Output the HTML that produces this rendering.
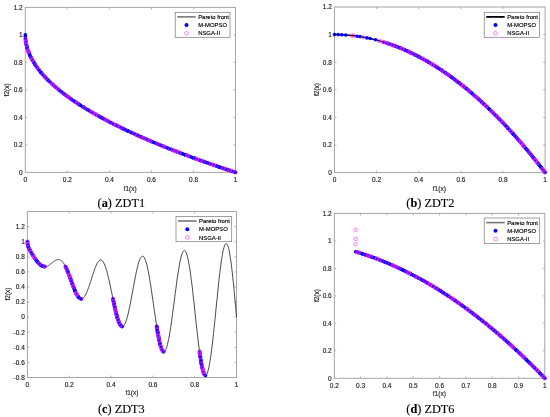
<!DOCTYPE html>
<html lang="en"><head><meta charset="utf-8"><title>Pareto fronts ZDT</title>
<style>
html,body{margin:0;padding:0;background:#fff}
svg{display:block}
.t{font-family:"Liberation Sans",Arial,sans-serif;font-size:6.5px;fill:#222;stroke:#222;stroke-width:.15}
.l{font-family:"Liberation Sans",Arial,sans-serif;font-size:5.9px;fill:#000;stroke:#000;stroke-width:.15}
.xl{font-family:"Liberation Sans",Arial,sans-serif;font-size:6.5px;fill:#2a2a2a;stroke:#2a2a2a;stroke-width:.15}
.c{font-family:"Liberation Serif","Times New Roman",serif;font-size:12.3px;fill:#000;stroke:#000;stroke-width:.12}
.ax{stroke:#a6a6a6;stroke-width:1;fill:none}
.tk{stroke:#999;stroke-width:.7;fill:none}
.b{fill:#0000ff}
.m{fill:none;stroke:#ff28ff;stroke-width:.6}
</style></head><body>
<svg width="550" height="417" viewBox="0 0 550 417">
<rect width="550" height="417" fill="#fff"/>
<g id="a">
<rect class="ax" x="25.3" y="7.4" width="210.2" height="165.0"/><path class="tk" d="M67.3 172.4v-2M67.3 7.4v2M109.4 172.4v-2M109.4 7.4v2M151.4 172.4v-2M151.4 7.4v2M193.5 172.4v-2M193.5 7.4v2M25.3 144.9h2M235.5 144.9h-2M25.3 117.4h2M235.5 117.4h-2M25.3 89.9h2M235.5 89.9h-2M25.3 62.4h2M235.5 62.4h-2M25.3 34.9h2M235.5 34.9h-2"/>
<polyline points="25.3,34.9 25.8,41.8 26.4,44.6 26.9,46.8 27.4,48.7 27.9,50.3 28.5,51.7 29.0,53.1 29.5,54.3 30.0,55.5 30.6,56.6 31.1,57.7 31.6,58.7 32.1,59.7 32.7,60.6 33.2,61.5 33.7,62.4 34.2,63.2 34.8,64.1 35.3,64.9 35.8,65.6 36.3,66.4 36.9,67.1 37.4,67.9 37.9,68.6 38.4,69.3 39.0,70.0 39.5,70.6 40.0,71.3 40.5,71.9 41.1,72.6 41.6,73.2 42.1,73.8 42.6,74.4 43.2,75.0 43.7,75.6 44.2,76.2 44.7,76.7 45.3,77.3 45.8,77.8 46.3,78.4 46.8,78.9 47.4,79.5 47.9,80.0 48.4,80.5 48.9,81.0 49.5,81.5 50.0,82.0 50.5,82.5 51.0,83.0 51.6,83.5 52.1,84.0 52.6,84.5 53.2,85.0 53.7,85.4 54.2,85.9 54.7,86.3 55.3,86.8 55.8,87.3 56.3,87.7 56.8,88.2 57.4,88.6 57.9,89.0 58.4,89.5 58.9,89.9 59.5,90.3 60.0,90.8 60.5,91.2 61.0,91.6 61.6,92.0 62.1,92.4 62.6,92.8 63.1,93.2 63.7,93.6 64.2,94.0 64.7,94.4 65.2,94.8 65.8,95.2 66.3,95.6 66.8,96.0 67.3,96.4 67.9,96.8 68.4,97.2 68.9,97.5 69.4,97.9 70.0,98.3 70.5,98.7 71.0,99.0 71.5,99.4 72.1,99.8 72.6,100.1 73.1,100.5 73.6,100.8 74.2,101.2 74.7,101.6 75.2,101.9 75.7,102.3 76.3,102.6 76.8,103.0 77.3,103.3 77.8,103.7 78.4,104.0 78.9,104.3 79.4,104.7 80.0,105.0 80.5,105.3 81.0,105.7 81.5,106.0 82.1,106.3 82.6,106.7 83.1,107.0 83.6,107.3 84.2,107.7 84.7,108.0 85.2,108.3 85.7,108.6 86.3,108.9 86.8,109.3 87.3,109.6 87.8,109.9 88.4,110.2 88.9,110.5 89.4,110.8 89.9,111.1 90.5,111.5 91.0,111.8 91.5,112.1 92.0,112.4 92.6,112.7 93.1,113.0 93.6,113.3 94.1,113.6 94.7,113.9 95.2,114.2 95.7,114.5 96.2,114.8 96.8,115.1 97.3,115.4 97.8,115.7 98.3,116.0 98.9,116.2 99.4,116.5 99.9,116.8 100.4,117.1 101.0,117.4 101.5,117.7 102.0,118.0 102.5,118.3 103.1,118.5 103.6,118.8 104.1,119.1 104.7,119.4 105.2,119.7 105.7,119.9 106.2,120.2 106.8,120.5 107.3,120.8 107.8,121.0 108.3,121.3 108.9,121.6 109.4,121.9 109.9,122.1 110.4,122.4 111.0,122.7 111.5,122.9 112.0,123.2 112.5,123.5 113.1,123.7 113.6,124.0 114.1,124.3 114.6,124.5 115.2,124.8 115.7,125.1 116.2,125.3 116.7,125.6 117.3,125.8 117.8,126.1 118.3,126.4 118.8,126.6 119.4,126.9 119.9,127.1 120.4,127.4 120.9,127.6 121.5,127.9 122.0,128.2 122.5,128.4 123.0,128.7 123.6,128.9 124.1,129.2 124.6,129.4 125.1,129.7 125.7,129.9 126.2,130.2 126.7,130.4 127.2,130.7 127.8,130.9 128.3,131.2 128.8,131.4 129.3,131.6 129.9,131.9 130.4,132.1 130.9,132.4 131.5,132.6 132.0,132.9 132.5,133.1 133.0,133.3 133.6,133.6 134.1,133.8 134.6,134.1 135.1,134.3 135.7,134.5 136.2,134.8 136.7,135.0 137.2,135.2 137.8,135.5 138.3,135.7 138.8,135.9 139.3,136.2 139.9,136.4 140.4,136.6 140.9,136.9 141.4,137.1 142.0,137.3 142.5,137.6 143.0,137.8 143.5,138.0 144.1,138.3 144.6,138.5 145.1,138.7 145.6,138.9 146.2,139.2 146.7,139.4 147.2,139.6 147.7,139.8 148.3,140.1 148.8,140.3 149.3,140.5 149.8,140.7 150.4,141.0 150.9,141.2 151.4,141.4 151.9,141.6 152.5,141.8 153.0,142.1 153.5,142.3 154.0,142.5 154.6,142.7 155.1,142.9 155.6,143.2 156.1,143.4 156.7,143.6 157.2,143.8 157.7,144.0 158.3,144.3 158.8,144.5 159.3,144.7 159.8,144.9 160.4,145.1 160.9,145.3 161.4,145.5 161.9,145.8 162.5,146.0 163.0,146.2 163.5,146.4 164.0,146.6 164.6,146.8 165.1,147.0 165.6,147.2 166.1,147.4 166.7,147.7 167.2,147.9 167.7,148.1 168.2,148.3 168.8,148.5 169.3,148.7 169.8,148.9 170.3,149.1 170.9,149.3 171.4,149.5 171.9,149.7 172.4,149.9 173.0,150.1 173.5,150.4 174.0,150.6 174.5,150.8 175.1,151.0 175.6,151.2 176.1,151.4 176.6,151.6 177.2,151.8 177.7,152.0 178.2,152.2 178.7,152.4 179.3,152.6 179.8,152.8 180.3,153.0 180.8,153.2 181.4,153.4 181.9,153.6 182.4,153.8 182.9,154.0 183.5,154.2 184.0,154.4 184.5,154.6 185.1,154.8 185.6,155.0 186.1,155.2 186.6,155.4 187.2,155.6 187.7,155.8 188.2,155.9 188.7,156.1 189.3,156.3 189.8,156.5 190.3,156.7 190.8,156.9 191.4,157.1 191.9,157.3 192.4,157.5 192.9,157.7 193.5,157.9 194.0,158.1 194.5,158.3 195.0,158.5 195.6,158.7 196.1,158.8 196.6,159.0 197.1,159.2 197.7,159.4 198.2,159.6 198.7,159.8 199.2,160.0 199.8,160.2 200.3,160.4 200.8,160.5 201.3,160.7 201.9,160.9 202.4,161.1 202.9,161.3 203.4,161.5 204.0,161.7 204.5,161.9 205.0,162.0 205.5,162.2 206.1,162.4 206.6,162.6 207.1,162.8 207.6,163.0 208.2,163.2 208.7,163.3 209.2,163.5 209.8,163.7 210.3,163.9 210.8,164.1 211.3,164.3 211.9,164.4 212.4,164.6 212.9,164.8 213.4,165.0 214.0,165.2 214.5,165.3 215.0,165.5 215.5,165.7 216.1,165.9 216.6,166.1 217.1,166.2 217.6,166.4 218.2,166.6 218.7,166.8 219.2,167.0 219.7,167.1 220.3,167.3 220.8,167.5 221.3,167.7 221.8,167.9 222.4,168.0 222.9,168.2 223.4,168.4 223.9,168.6 224.5,168.7 225.0,168.9 225.5,169.1 226.0,169.3 226.6,169.4 227.1,169.6 227.6,169.8 228.1,170.0 228.7,170.1 229.2,170.3 229.7,170.5 230.2,170.7 230.8,170.8 231.3,171.0 231.8,171.2 232.3,171.4 232.9,171.5 233.4,171.7 233.9,171.9 234.4,172.1 235.0,172.2 235.5,172.4" fill="none" stroke="#777" stroke-width="1.2" stroke-linejoin="round"/>
<g class="b"><circle cx="25.3" cy="34.9" r="1.8"/><circle cx="25.3" cy="36.7" r="1.8"/><circle cx="25.5" cy="39.1" r="1.8"/><circle cx="25.5" cy="39.1" r="1.8"/><circle cx="25.6" cy="40.5" r="1.8"/><circle cx="25.7" cy="41.0" r="1.8"/><circle cx="25.8" cy="41.3" r="1.8"/><circle cx="25.9" cy="42.3" r="1.8"/><circle cx="25.9" cy="42.4" r="1.8"/><circle cx="26.1" cy="43.6" r="1.8"/><circle cx="26.2" cy="44.1" r="1.8"/><circle cx="26.4" cy="45.0" r="1.8"/><circle cx="26.8" cy="46.4" r="1.8"/><circle cx="27.2" cy="48.0" r="1.8"/><circle cx="27.2" cy="47.9" r="1.8"/><circle cx="27.5" cy="48.9" r="1.8"/><circle cx="28.0" cy="50.4" r="1.8"/><circle cx="28.5" cy="51.8" r="1.8"/><circle cx="28.6" cy="52.2" r="1.8"/><circle cx="28.9" cy="52.8" r="1.8"/><circle cx="29.6" cy="54.6" r="1.8"/><circle cx="29.4" cy="54.1" r="1.8"/><circle cx="30.3" cy="56.2" r="1.8"/><circle cx="30.4" cy="56.3" r="1.8"/><circle cx="30.7" cy="56.9" r="1.8"/><circle cx="31.1" cy="57.8" r="1.8"/><circle cx="31.7" cy="58.9" r="1.8"/><circle cx="32.6" cy="60.4" r="1.8"/><circle cx="32.5" cy="60.4" r="1.8"/><circle cx="33.4" cy="61.8" r="1.8"/><circle cx="33.9" cy="62.7" r="1.8"/><circle cx="34.2" cy="63.2" r="1.8"/><circle cx="34.9" cy="64.2" r="1.8"/><circle cx="35.0" cy="64.4" r="1.8"/><circle cx="35.5" cy="65.2" r="1.8"/><circle cx="36.2" cy="66.2" r="1.8"/><circle cx="37.2" cy="67.6" r="1.8"/><circle cx="37.5" cy="68.1" r="1.8"/><circle cx="38.0" cy="68.7" r="1.8"/><circle cx="38.9" cy="69.8" r="1.8"/><circle cx="39.3" cy="70.4" r="1.8"/><circle cx="39.8" cy="71.0" r="1.8"/><circle cx="40.9" cy="72.4" r="1.8"/><circle cx="41.4" cy="73.0" r="1.8"/><circle cx="41.6" cy="73.2" r="1.8"/><circle cx="42.6" cy="74.3" r="1.8"/><circle cx="43.2" cy="75.0" r="1.8"/><circle cx="44.2" cy="76.1" r="1.8"/><circle cx="44.7" cy="76.7" r="1.8"/><circle cx="44.9" cy="76.9" r="1.8"/><circle cx="46.3" cy="78.4" r="1.8"/><circle cx="46.1" cy="78.1" r="1.8"/><circle cx="47.1" cy="79.2" r="1.8"/><circle cx="48.1" cy="80.2" r="1.8"/><circle cx="48.2" cy="80.2" r="1.8"/><circle cx="49.2" cy="81.3" r="1.8"/><circle cx="49.4" cy="81.5" r="1.8"/><circle cx="50.9" cy="82.8" r="1.8"/><circle cx="51.7" cy="83.6" r="1.8"/><circle cx="52.2" cy="84.1" r="1.8"/><circle cx="53.2" cy="85.0" r="1.8"/><circle cx="53.3" cy="85.1" r="1.8"/><circle cx="54.5" cy="86.1" r="1.8"/><circle cx="55.1" cy="86.7" r="1.8"/><circle cx="55.8" cy="87.3" r="1.8"/><circle cx="56.4" cy="87.8" r="1.8"/><circle cx="57.6" cy="88.8" r="1.8"/><circle cx="58.5" cy="89.6" r="1.8"/><circle cx="58.7" cy="89.7" r="1.8"/><circle cx="59.7" cy="90.5" r="1.8"/><circle cx="59.7" cy="90.5" r="1.8"/><circle cx="61.3" cy="91.8" r="1.8"/><circle cx="62.0" cy="92.3" r="1.8"/><circle cx="63.1" cy="93.2" r="1.8"/><circle cx="63.7" cy="93.7" r="1.8"/><circle cx="63.8" cy="93.8" r="1.8"/><circle cx="64.7" cy="94.4" r="1.8"/><circle cx="65.9" cy="95.3" r="1.8"/><circle cx="65.8" cy="95.3" r="1.8"/><circle cx="67.2" cy="96.3" r="1.8"/><circle cx="67.6" cy="96.6" r="1.8"/><circle cx="68.3" cy="97.1" r="1.8"/><circle cx="69.0" cy="97.6" r="1.8"/><circle cx="70.7" cy="98.8" r="1.8"/><circle cx="70.7" cy="98.8" r="1.8"/><circle cx="71.7" cy="99.5" r="1.8"/><circle cx="72.6" cy="100.2" r="1.8"/><circle cx="74.1" cy="101.1" r="1.8"/><circle cx="73.9" cy="101.0" r="1.8"/><circle cx="75.1" cy="101.9" r="1.8"/><circle cx="76.1" cy="102.5" r="1.8"/><circle cx="77.3" cy="103.3" r="1.8"/><circle cx="78.1" cy="103.8" r="1.8"/><circle cx="78.9" cy="104.4" r="1.8"/><circle cx="79.0" cy="104.4" r="1.8"/><circle cx="80.0" cy="105.0" r="1.8"/><circle cx="80.7" cy="105.5" r="1.8"/><circle cx="82.3" cy="106.5" r="1.8"/><circle cx="83.2" cy="107.1" r="1.8"/><circle cx="82.9" cy="106.9" r="1.8"/><circle cx="83.8" cy="107.4" r="1.8"/><circle cx="84.7" cy="108.0" r="1.8"/><circle cx="85.5" cy="108.5" r="1.8"/><circle cx="86.7" cy="109.2" r="1.8"/><circle cx="87.7" cy="109.8" r="1.8"/><circle cx="88.1" cy="110.0" r="1.8"/><circle cx="88.6" cy="110.3" r="1.8"/><circle cx="90.0" cy="111.2" r="1.8"/><circle cx="90.7" cy="111.6" r="1.8"/><circle cx="91.8" cy="112.3" r="1.8"/><circle cx="93.2" cy="113.1" r="1.8"/><circle cx="93.7" cy="113.3" r="1.8"/><circle cx="94.3" cy="113.7" r="1.8"/><circle cx="95.3" cy="114.3" r="1.8"/><circle cx="96.2" cy="114.8" r="1.8"/><circle cx="96.2" cy="114.8" r="1.8"/><circle cx="98.2" cy="115.9" r="1.8"/><circle cx="98.9" cy="116.3" r="1.8"/><circle cx="99.9" cy="116.8" r="1.8"/><circle cx="100.7" cy="117.2" r="1.8"/><circle cx="101.0" cy="117.4" r="1.8"/><circle cx="101.8" cy="117.9" r="1.8"/><circle cx="102.3" cy="118.1" r="1.8"/><circle cx="103.9" cy="119.0" r="1.8"/><circle cx="103.9" cy="119.0" r="1.8"/><circle cx="104.8" cy="119.5" r="1.8"/><circle cx="105.9" cy="120.0" r="1.8"/><circle cx="106.7" cy="120.4" r="1.8"/><circle cx="107.8" cy="121.0" r="1.8"/><circle cx="108.2" cy="121.3" r="1.8"/><circle cx="109.0" cy="121.7" r="1.8"/><circle cx="110.1" cy="122.2" r="1.8"/><circle cx="110.9" cy="122.7" r="1.8"/><circle cx="112.1" cy="123.3" r="1.8"/><circle cx="112.5" cy="123.5" r="1.8"/><circle cx="114.6" cy="124.5" r="1.8"/><circle cx="115.1" cy="124.8" r="1.8"/><circle cx="115.3" cy="124.9" r="1.8"/><circle cx="116.4" cy="125.4" r="1.8"/><circle cx="117.4" cy="125.9" r="1.8"/><circle cx="118.3" cy="126.3" r="1.8"/><circle cx="118.8" cy="126.6" r="1.8"/><circle cx="120.7" cy="127.5" r="1.8"/><circle cx="121.8" cy="128.1" r="1.8"/><circle cx="121.9" cy="128.1" r="1.8"/><circle cx="122.8" cy="128.6" r="1.8"/><circle cx="123.1" cy="128.7" r="1.8"/><circle cx="124.0" cy="129.1" r="1.8"/><circle cx="125.3" cy="129.7" r="1.8"/><circle cx="126.0" cy="130.1" r="1.8"/><circle cx="127.7" cy="130.9" r="1.8"/><circle cx="127.6" cy="130.8" r="1.8"/><circle cx="128.3" cy="131.2" r="1.8"/><circle cx="130.5" cy="132.2" r="1.8"/><circle cx="130.8" cy="132.3" r="1.8"/><circle cx="131.2" cy="132.5" r="1.8"/><circle cx="132.6" cy="133.1" r="1.8"/><circle cx="132.8" cy="133.2" r="1.8"/><circle cx="134.4" cy="133.9" r="1.8"/><circle cx="135.9" cy="134.6" r="1.8"/><circle cx="136.6" cy="135.0" r="1.8"/><circle cx="137.3" cy="135.3" r="1.8"/><circle cx="137.5" cy="135.4" r="1.8"/><circle cx="138.6" cy="135.8" r="1.8"/><circle cx="139.2" cy="136.1" r="1.8"/><circle cx="140.9" cy="136.9" r="1.8"/><circle cx="141.5" cy="137.1" r="1.8"/><circle cx="142.7" cy="137.7" r="1.8"/><circle cx="143.0" cy="137.8" r="1.8"/><circle cx="143.7" cy="138.1" r="1.8"/><circle cx="145.5" cy="138.9" r="1.8"/><circle cx="146.6" cy="139.4" r="1.8"/><circle cx="147.3" cy="139.7" r="1.8"/><circle cx="148.2" cy="140.0" r="1.8"/><circle cx="149.1" cy="140.4" r="1.8"/><circle cx="149.9" cy="140.7" r="1.8"/><circle cx="150.0" cy="140.8" r="1.8"/><circle cx="151.3" cy="141.4" r="1.8"/><circle cx="152.0" cy="141.7" r="1.8"/><circle cx="152.4" cy="141.8" r="1.8"/><circle cx="153.3" cy="142.2" r="1.8"/><circle cx="154.6" cy="142.7" r="1.8"/><circle cx="155.5" cy="143.1" r="1.8"/><circle cx="157.0" cy="143.7" r="1.8"/><circle cx="158.3" cy="144.3" r="1.8"/><circle cx="158.4" cy="144.3" r="1.8"/><circle cx="160.0" cy="145.0" r="1.8"/><circle cx="161.0" cy="145.4" r="1.8"/><circle cx="161.9" cy="145.7" r="1.8"/><circle cx="161.9" cy="145.8" r="1.8"/><circle cx="162.6" cy="146.0" r="1.8"/><circle cx="163.5" cy="146.4" r="1.8"/><circle cx="164.4" cy="146.8" r="1.8"/><circle cx="165.3" cy="147.1" r="1.8"/><circle cx="166.8" cy="147.7" r="1.8"/><circle cx="168.1" cy="148.2" r="1.8"/><circle cx="169.0" cy="148.6" r="1.8"/><circle cx="169.3" cy="148.7" r="1.8"/><circle cx="170.5" cy="149.2" r="1.8"/><circle cx="171.6" cy="149.6" r="1.8"/><circle cx="171.5" cy="149.6" r="1.8"/><circle cx="173.2" cy="150.3" r="1.8"/><circle cx="174.5" cy="150.7" r="1.8"/><circle cx="175.2" cy="151.0" r="1.8"/><circle cx="176.1" cy="151.4" r="1.8"/><circle cx="176.6" cy="151.6" r="1.8"/><circle cx="177.1" cy="151.7" r="1.8"/><circle cx="178.9" cy="152.4" r="1.8"/><circle cx="179.1" cy="152.5" r="1.8"/><circle cx="180.7" cy="153.1" r="1.8"/><circle cx="181.9" cy="153.6" r="1.8"/><circle cx="182.0" cy="153.6" r="1.8"/><circle cx="182.9" cy="154.0" r="1.8"/><circle cx="184.6" cy="154.6" r="1.8"/><circle cx="185.2" cy="154.8" r="1.8"/><circle cx="185.3" cy="154.9" r="1.8"/><circle cx="186.1" cy="155.2" r="1.8"/><circle cx="187.1" cy="155.5" r="1.8"/><circle cx="189.1" cy="156.3" r="1.8"/><circle cx="189.9" cy="156.6" r="1.8"/><circle cx="189.8" cy="156.5" r="1.8"/><circle cx="191.7" cy="157.2" r="1.8"/><circle cx="192.9" cy="157.7" r="1.8"/><circle cx="193.3" cy="157.8" r="1.8"/><circle cx="193.8" cy="158.0" r="1.8"/><circle cx="195.0" cy="158.4" r="1.8"/><circle cx="195.3" cy="158.6" r="1.8"/><circle cx="196.0" cy="158.8" r="1.8"/><circle cx="198.4" cy="159.7" r="1.8"/><circle cx="198.8" cy="159.8" r="1.8"/><circle cx="199.5" cy="160.1" r="1.8"/><circle cx="201.1" cy="160.6" r="1.8"/><circle cx="201.2" cy="160.7" r="1.8"/><circle cx="202.8" cy="161.3" r="1.8"/><circle cx="203.7" cy="161.6" r="1.8"/><circle cx="203.7" cy="161.6" r="1.8"/><circle cx="204.7" cy="161.9" r="1.8"/><circle cx="205.6" cy="162.3" r="1.8"/><circle cx="206.5" cy="162.6" r="1.8"/><circle cx="207.9" cy="163.1" r="1.8"/><circle cx="208.3" cy="163.2" r="1.8"/><circle cx="209.5" cy="163.6" r="1.8"/><circle cx="210.0" cy="163.8" r="1.8"/><circle cx="212.1" cy="164.5" r="1.8"/><circle cx="212.2" cy="164.5" r="1.8"/><circle cx="213.2" cy="164.9" r="1.8"/><circle cx="214.4" cy="165.3" r="1.8"/><circle cx="215.7" cy="165.8" r="1.8"/><circle cx="216.0" cy="165.9" r="1.8"/><circle cx="217.6" cy="166.4" r="1.8"/><circle cx="217.9" cy="166.5" r="1.8"/><circle cx="218.9" cy="166.9" r="1.8"/><circle cx="219.8" cy="167.2" r="1.8"/><circle cx="220.0" cy="167.2" r="1.8"/><circle cx="221.5" cy="167.8" r="1.8"/><circle cx="222.1" cy="167.9" r="1.8"/><circle cx="222.7" cy="168.2" r="1.8"/><circle cx="224.8" cy="168.9" r="1.8"/><circle cx="224.8" cy="168.9" r="1.8"/><circle cx="226.2" cy="169.3" r="1.8"/><circle cx="227.5" cy="169.8" r="1.8"/><circle cx="228.2" cy="170.0" r="1.8"/><circle cx="228.8" cy="170.2" r="1.8"/><circle cx="230.0" cy="170.6" r="1.8"/><circle cx="230.9" cy="170.9" r="1.8"/><circle cx="232.2" cy="171.3" r="1.8"/><circle cx="232.1" cy="171.3" r="1.8"/><circle cx="233.7" cy="171.8" r="1.8"/><circle cx="234.2" cy="172.0" r="1.8"/><circle cx="235.5" cy="172.4" r="1.8"/></g>
<g class="m"><circle cx="25.5" cy="39.2" r="1.75"/><circle cx="25.9" cy="41.1" r="1.75"/><circle cx="25.9" cy="41.9" r="1.75"/><circle cx="26.3" cy="44.6" r="1.75"/><circle cx="26.6" cy="45.4" r="1.75"/><circle cx="28.3" cy="51.0" r="1.75"/><circle cx="28.3" cy="51.1" r="1.75"/><circle cx="27.8" cy="50.1" r="1.75"/><circle cx="28.5" cy="52.0" r="1.75"/><circle cx="31.9" cy="59.2" r="1.75"/><circle cx="31.1" cy="57.6" r="1.75"/><circle cx="32.3" cy="60.0" r="1.75"/><circle cx="34.0" cy="62.6" r="1.75"/><circle cx="36.7" cy="66.9" r="1.75"/><circle cx="36.5" cy="66.7" r="1.75"/><circle cx="38.9" cy="70.0" r="1.75"/><circle cx="42.6" cy="74.6" r="1.75"/><circle cx="42.8" cy="74.7" r="1.75"/><circle cx="45.8" cy="77.7" r="1.75"/><circle cx="49.9" cy="82.0" r="1.75"/><circle cx="46.4" cy="78.4" r="1.75"/><circle cx="52.4" cy="84.2" r="1.75"/><circle cx="52.3" cy="84.2" r="1.75"/><circle cx="53.0" cy="85.0" r="1.75"/><circle cx="57.2" cy="88.3" r="1.75"/><circle cx="55.9" cy="87.3" r="1.75"/><circle cx="58.1" cy="89.1" r="1.75"/><circle cx="64.7" cy="94.7" r="1.75"/><circle cx="62.1" cy="92.3" r="1.75"/><circle cx="66.0" cy="95.5" r="1.75"/><circle cx="67.5" cy="96.6" r="1.75"/><circle cx="69.4" cy="97.9" r="1.75"/><circle cx="70.3" cy="98.5" r="1.75"/><circle cx="74.4" cy="101.3" r="1.75"/><circle cx="77.9" cy="103.7" r="1.75"/><circle cx="76.7" cy="102.8" r="1.75"/><circle cx="84.1" cy="107.5" r="1.75"/><circle cx="84.6" cy="107.7" r="1.75"/><circle cx="89.2" cy="110.7" r="1.75"/><circle cx="91.6" cy="112.2" r="1.75"/><circle cx="93.0" cy="112.8" r="1.75"/><circle cx="96.3" cy="114.8" r="1.75"/><circle cx="95.3" cy="114.2" r="1.75"/><circle cx="95.5" cy="114.5" r="1.75"/><circle cx="98.8" cy="116.1" r="1.75"/><circle cx="105.7" cy="119.9" r="1.75"/><circle cx="103.7" cy="118.8" r="1.75"/><circle cx="107.3" cy="120.8" r="1.75"/><circle cx="108.5" cy="121.5" r="1.75"/><circle cx="112.7" cy="123.8" r="1.75"/><circle cx="113.3" cy="123.8" r="1.75"/><circle cx="116.3" cy="125.4" r="1.75"/><circle cx="117.3" cy="125.7" r="1.75"/><circle cx="120.0" cy="127.2" r="1.75"/><circle cx="120.7" cy="127.5" r="1.75"/><circle cx="124.7" cy="129.5" r="1.75"/><circle cx="131.1" cy="132.5" r="1.75"/><circle cx="134.5" cy="133.9" r="1.75"/><circle cx="137.6" cy="135.5" r="1.75"/><circle cx="137.4" cy="135.5" r="1.75"/><circle cx="141.9" cy="137.4" r="1.75"/><circle cx="143.5" cy="138.1" r="1.75"/><circle cx="143.8" cy="138.2" r="1.75"/><circle cx="148.7" cy="140.3" r="1.75"/><circle cx="150.0" cy="140.7" r="1.75"/><circle cx="147.2" cy="139.6" r="1.75"/><circle cx="150.4" cy="141.0" r="1.75"/><circle cx="156.9" cy="143.7" r="1.75"/><circle cx="158.1" cy="144.3" r="1.75"/><circle cx="162.7" cy="146.1" r="1.75"/><circle cx="164.3" cy="146.9" r="1.75"/><circle cx="163.6" cy="146.4" r="1.75"/><circle cx="169.9" cy="149.0" r="1.75"/><circle cx="174.4" cy="150.7" r="1.75"/><circle cx="173.0" cy="150.2" r="1.75"/><circle cx="176.5" cy="151.4" r="1.75"/><circle cx="175.2" cy="151.1" r="1.75"/><circle cx="179.0" cy="152.3" r="1.75"/><circle cx="179.4" cy="152.7" r="1.75"/><circle cx="187.0" cy="155.4" r="1.75"/><circle cx="188.1" cy="155.9" r="1.75"/><circle cx="187.5" cy="155.6" r="1.75"/><circle cx="196.9" cy="158.9" r="1.75"/><circle cx="195.2" cy="158.6" r="1.75"/><circle cx="197.4" cy="159.3" r="1.75"/><circle cx="203.9" cy="161.7" r="1.75"/><circle cx="200.0" cy="160.4" r="1.75"/><circle cx="202.5" cy="161.1" r="1.75"/><circle cx="211.0" cy="164.1" r="1.75"/><circle cx="213.6" cy="164.9" r="1.75"/><circle cx="208.9" cy="163.4" r="1.75"/><circle cx="213.7" cy="165.1" r="1.75"/><circle cx="216.5" cy="165.9" r="1.75"/><circle cx="222.5" cy="167.9" r="1.75"/><circle cx="226.4" cy="169.5" r="1.75"/><circle cx="223.7" cy="168.5" r="1.75"/><circle cx="232.0" cy="171.2" r="1.75"/><circle cx="229.8" cy="170.4" r="1.75"/><circle cx="229.9" cy="170.4" r="1.75"/><circle cx="235.4" cy="172.3" r="1.75"/></g>
<text class="t" x="25.3" y="182.0" text-anchor="middle">0</text>
<text class="t" x="67.3" y="182.0" text-anchor="middle">0.2</text>
<text class="t" x="109.4" y="182.0" text-anchor="middle">0.4</text>
<text class="t" x="151.4" y="182.0" text-anchor="middle">0.6</text>
<text class="t" x="193.5" y="182.0" text-anchor="middle">0.8</text>
<text class="t" x="235.5" y="182.0" text-anchor="middle">1</text>
<text class="t" x="22.7" y="174.7" text-anchor="end">0</text>
<text class="t" x="22.7" y="147.2" text-anchor="end">0.2</text>
<text class="t" x="22.7" y="119.7" text-anchor="end">0.4</text>
<text class="t" x="22.7" y="92.2" text-anchor="end">0.6</text>
<text class="t" x="22.7" y="64.7" text-anchor="end">0.8</text>
<text class="t" x="22.7" y="37.2" text-anchor="end">1</text>
<text class="t" x="22.7" y="9.7" text-anchor="end">1.2</text>
<text class="xl" x="130.2" y="191.2" text-anchor="middle">f1(x)</text>
<text class="xl" transform="translate(9.2 89.9) rotate(-90)" text-anchor="middle">f2(x)</text>
<rect x="175.2" y="12.3" width="54.8" height="25.0" fill="#fff" stroke="#777" stroke-width=".7"/>
<line x1="177.2" y1="16.9" x2="195.7" y2="16.9" stroke="#777" stroke-width="1.6"/>
<circle class="b" cx="186.5" cy="25.1" r="2"/>
<circle class="m" cx="186.5" cy="33.3" r="1.85"/>
<text class="l" x="198.2" y="19.0">Pareto front</text>
<text class="l" x="198.2" y="27.2">M-MOPSO</text>
<text class="l" x="198.2" y="35.4">NSGA-II</text>
<text class="c" x="97.6" y="207.1">(<tspan font-weight="bold">a</tspan>) ZDT1</text>
</g>
<g id="b">
<rect class="ax" x="334.5" y="7.0" width="210.6" height="165.6"/><path class="tk" d="M376.6 172.6v-2M376.6 7.0v2M418.7 172.6v-2M418.7 7.0v2M460.9 172.6v-2M460.9 7.0v2M503.0 172.6v-2M503.0 7.0v2M334.5 145.0h2M545.1 145.0h-2M334.5 117.4h2M545.1 117.4h-2M334.5 89.8h2M545.1 89.8h-2M334.5 62.2h2M545.1 62.2h-2M334.5 34.6h2M545.1 34.6h-2"/>
<polyline points="334.5,34.6 335.0,34.6 335.6,34.6 336.1,34.6 336.6,34.6 337.1,34.6 337.7,34.6 338.2,34.6 338.7,34.7 339.2,34.7 339.8,34.7 340.3,34.7 340.8,34.7 341.3,34.7 341.9,34.8 342.4,34.8 342.9,34.8 343.5,34.8 344.0,34.9 344.5,34.9 345.0,34.9 345.6,35.0 346.1,35.0 346.6,35.1 347.1,35.1 347.7,35.1 348.2,35.2 348.7,35.2 349.2,35.3 349.8,35.3 350.3,35.4 350.8,35.4 351.3,35.5 351.9,35.5 352.4,35.6 352.9,35.7 353.5,35.7 354.0,35.8 354.5,35.8 355.0,35.9 355.6,36.0 356.1,36.0 356.6,36.1 357.1,36.2 357.7,36.3 358.2,36.3 358.7,36.4 359.2,36.5 359.8,36.6 360.3,36.7 360.8,36.8 361.4,36.8 361.9,36.9 362.4,37.0 362.9,37.1 363.5,37.2 364.0,37.3 364.5,37.4 365.0,37.5 365.6,37.6 366.1,37.7 366.6,37.8 367.1,37.9 367.7,38.0 368.2,38.1 368.7,38.2 369.2,38.4 369.8,38.5 370.3,38.6 370.8,38.7 371.4,38.8 371.9,38.9 372.4,39.1 372.9,39.2 373.5,39.3 374.0,39.5 374.5,39.6 375.0,39.7 375.6,39.8 376.1,40.0 376.6,40.1 377.1,40.3 377.7,40.4 378.2,40.5 378.7,40.7 379.3,40.8 379.8,41.0 380.3,41.1 380.8,41.3 381.4,41.4 381.9,41.6 382.4,41.7 382.9,41.9 383.5,42.1 384.0,42.2 384.5,42.4 385.0,42.5 385.6,42.7 386.1,42.9 386.6,43.1 387.1,43.2 387.7,43.4 388.2,43.6 388.7,43.8 389.3,43.9 389.8,44.1 390.3,44.3 390.8,44.5 391.4,44.7 391.9,44.8 392.4,45.0 392.9,45.2 393.5,45.4 394.0,45.6 394.5,45.8 395.0,46.0 395.6,46.2 396.1,46.4 396.6,46.6 397.2,46.8 397.7,47.0 398.2,47.2 398.7,47.4 399.3,47.6 399.8,47.9 400.3,48.1 400.8,48.3 401.4,48.5 401.9,48.7 402.4,49.0 402.9,49.2 403.5,49.4 404.0,49.6 404.5,49.9 405.1,50.1 405.6,50.3 406.1,50.6 406.6,50.8 407.2,51.0 407.7,51.3 408.2,51.5 408.7,51.7 409.3,52.0 409.8,52.2 410.3,52.5 410.8,52.7 411.4,53.0 411.9,53.2 412.4,53.5 412.9,53.7 413.5,54.0 414.0,54.3 414.5,54.5 415.1,54.8 415.6,55.1 416.1,55.3 416.6,55.6 417.2,55.9 417.7,56.1 418.2,56.4 418.7,56.7 419.3,57.0 419.8,57.2 420.3,57.5 420.8,57.8 421.4,58.1 421.9,58.4 422.4,58.7 423.0,58.9 423.5,59.2 424.0,59.5 424.5,59.8 425.1,60.1 425.6,60.4 426.1,60.7 426.6,61.0 427.2,61.3 427.7,61.6 428.2,61.9 428.7,62.2 429.3,62.5 429.8,62.9 430.3,63.2 430.8,63.5 431.4,63.8 431.9,64.1 432.4,64.4 433.0,64.8 433.5,65.1 434.0,65.4 434.5,65.7 435.1,66.1 435.6,66.4 436.1,66.7 436.6,67.1 437.2,67.4 437.7,67.7 438.2,68.1 438.7,68.4 439.3,68.8 439.8,69.1 440.3,69.4 440.9,69.8 441.4,70.1 441.9,70.5 442.4,70.8 443.0,71.2 443.5,71.6 444.0,71.9 444.5,72.3 445.1,72.6 445.6,73.0 446.1,73.4 446.6,73.7 447.2,74.1 447.7,74.5 448.2,74.8 448.8,75.2 449.3,75.6 449.8,76.0 450.3,76.3 450.9,76.7 451.4,77.1 451.9,77.5 452.4,77.9 453.0,78.3 453.5,78.7 454.0,79.0 454.5,79.4 455.1,79.8 455.6,80.2 456.1,80.6 456.6,81.0 457.2,81.4 457.7,81.8 458.2,82.2 458.8,82.6 459.3,83.0 459.8,83.5 460.3,83.9 460.9,84.3 461.4,84.7 461.9,85.1 462.4,85.5 463.0,85.9 463.5,86.4 464.0,86.8 464.5,87.2 465.1,87.6 465.6,88.1 466.1,88.5 466.7,88.9 467.2,89.4 467.7,89.8 468.2,90.2 468.8,90.7 469.3,91.1 469.8,91.6 470.3,92.0 470.9,92.5 471.4,92.9 471.9,93.4 472.4,93.8 473.0,94.3 473.5,94.7 474.0,95.2 474.5,95.6 475.1,96.1 475.6,96.5 476.1,97.0 476.7,97.5 477.2,97.9 477.7,98.4 478.2,98.9 478.8,99.4 479.3,99.8 479.8,100.3 480.3,100.8 480.9,101.3 481.4,101.7 481.9,102.2 482.4,102.7 483.0,103.2 483.5,103.7 484.0,104.2 484.6,104.7 485.1,105.1 485.6,105.6 486.1,106.1 486.7,106.6 487.2,107.1 487.7,107.6 488.2,108.1 488.8,108.6 489.3,109.2 489.8,109.7 490.3,110.2 490.9,110.7 491.4,111.2 491.9,111.7 492.5,112.2 493.0,112.7 493.5,113.3 494.0,113.8 494.6,114.3 495.1,114.8 495.6,115.4 496.1,115.9 496.7,116.4 497.2,117.0 497.7,117.5 498.2,118.0 498.8,118.6 499.3,119.1 499.8,119.6 500.3,120.2 500.9,120.7 501.4,121.3 501.9,121.8 502.5,122.4 503.0,122.9 503.5,123.5 504.0,124.0 504.6,124.6 505.1,125.1 505.6,125.7 506.1,126.3 506.7,126.8 507.2,127.4 507.7,128.0 508.2,128.5 508.8,129.1 509.3,129.7 509.8,130.2 510.4,130.8 510.9,131.4 511.4,132.0 511.9,132.6 512.5,133.1 513.0,133.7 513.5,134.3 514.0,134.9 514.6,135.5 515.1,136.1 515.6,136.7 516.1,137.3 516.7,137.9 517.2,138.5 517.7,139.1 518.2,139.7 518.8,140.3 519.3,140.9 519.8,141.5 520.4,142.1 520.9,142.7 521.4,143.3 521.9,143.9 522.5,144.5 523.0,145.1 523.5,145.8 524.0,146.4 524.6,147.0 525.1,147.6 525.6,148.3 526.1,148.9 526.7,149.5 527.2,150.1 527.7,150.8 528.3,151.4 528.8,152.0 529.3,152.7 529.8,153.3 530.4,154.0 530.9,154.6 531.4,155.2 531.9,155.9 532.5,156.5 533.0,157.2 533.5,157.8 534.0,158.5 534.6,159.1 535.1,159.8 535.6,160.5 536.1,161.1 536.7,161.8 537.2,162.4 537.7,163.1 538.3,163.8 538.8,164.4 539.3,165.1 539.8,165.8 540.4,166.5 540.9,167.1 541.4,167.8 541.9,168.5 542.5,169.2 543.0,169.9 543.5,170.5 544.0,171.2 544.6,171.9 545.1,172.6" fill="none" stroke="#000" stroke-width="1.5" stroke-linejoin="round"/>
<g class="b"><circle cx="387.1" cy="43.2" r="1.8"/><circle cx="387.6" cy="43.4" r="1.8"/><circle cx="388.7" cy="43.7" r="1.8"/><circle cx="390.3" cy="44.3" r="1.8"/><circle cx="391.1" cy="44.6" r="1.8"/><circle cx="391.9" cy="44.8" r="1.8"/><circle cx="392.5" cy="45.1" r="1.8"/><circle cx="393.7" cy="45.5" r="1.8"/><circle cx="394.6" cy="45.8" r="1.8"/><circle cx="394.9" cy="46.0" r="1.8"/><circle cx="396.0" cy="46.4" r="1.8"/><circle cx="395.9" cy="46.3" r="1.8"/><circle cx="397.7" cy="47.0" r="1.8"/><circle cx="398.1" cy="47.2" r="1.8"/><circle cx="399.4" cy="47.7" r="1.8"/><circle cx="400.1" cy="48.0" r="1.8"/><circle cx="400.4" cy="48.1" r="1.8"/><circle cx="401.0" cy="48.3" r="1.8"/><circle cx="403.0" cy="49.2" r="1.8"/><circle cx="402.7" cy="49.1" r="1.8"/><circle cx="404.0" cy="49.6" r="1.8"/><circle cx="404.7" cy="49.9" r="1.8"/><circle cx="405.4" cy="50.3" r="1.8"/><circle cx="406.9" cy="50.9" r="1.8"/><circle cx="408.0" cy="51.4" r="1.8"/><circle cx="407.9" cy="51.4" r="1.8"/><circle cx="409.2" cy="52.0" r="1.8"/><circle cx="409.6" cy="52.1" r="1.8"/><circle cx="410.7" cy="52.7" r="1.8"/><circle cx="411.3" cy="53.0" r="1.8"/><circle cx="411.8" cy="53.2" r="1.8"/><circle cx="412.7" cy="53.6" r="1.8"/><circle cx="413.5" cy="54.0" r="1.8"/><circle cx="415.2" cy="54.9" r="1.8"/><circle cx="415.5" cy="55.0" r="1.8"/><circle cx="416.0" cy="55.3" r="1.8"/><circle cx="417.7" cy="56.1" r="1.8"/><circle cx="418.6" cy="56.6" r="1.8"/><circle cx="418.7" cy="56.6" r="1.8"/><circle cx="419.1" cy="56.9" r="1.8"/><circle cx="419.9" cy="57.3" r="1.8"/><circle cx="420.6" cy="57.7" r="1.8"/><circle cx="421.7" cy="58.3" r="1.8"/><circle cx="422.2" cy="58.5" r="1.8"/><circle cx="423.2" cy="59.1" r="1.8"/><circle cx="424.0" cy="59.5" r="1.8"/><circle cx="425.2" cy="60.2" r="1.8"/><circle cx="426.4" cy="60.9" r="1.8"/><circle cx="427.0" cy="61.2" r="1.8"/><circle cx="427.3" cy="61.4" r="1.8"/><circle cx="428.1" cy="61.9" r="1.8"/><circle cx="429.0" cy="62.4" r="1.8"/><circle cx="429.6" cy="62.8" r="1.8"/><circle cx="430.4" cy="63.2" r="1.8"/><circle cx="430.8" cy="63.5" r="1.8"/><circle cx="431.9" cy="64.1" r="1.8"/><circle cx="433.5" cy="65.1" r="1.8"/><circle cx="433.2" cy="64.9" r="1.8"/><circle cx="434.4" cy="65.7" r="1.8"/><circle cx="435.4" cy="66.3" r="1.8"/><circle cx="436.4" cy="66.9" r="1.8"/><circle cx="436.4" cy="66.9" r="1.8"/><circle cx="437.2" cy="67.4" r="1.8"/><circle cx="438.0" cy="67.9" r="1.8"/><circle cx="438.9" cy="68.5" r="1.8"/><circle cx="439.7" cy="69.0" r="1.8"/><circle cx="441.1" cy="69.9" r="1.8"/><circle cx="441.7" cy="70.4" r="1.8"/><circle cx="442.5" cy="70.9" r="1.8"/><circle cx="442.2" cy="70.7" r="1.8"/><circle cx="443.0" cy="71.2" r="1.8"/><circle cx="444.5" cy="72.3" r="1.8"/><circle cx="445.5" cy="72.9" r="1.8"/><circle cx="445.7" cy="73.1" r="1.8"/><circle cx="446.6" cy="73.7" r="1.8"/><circle cx="446.7" cy="73.7" r="1.8"/><circle cx="447.9" cy="74.6" r="1.8"/><circle cx="449.2" cy="75.6" r="1.8"/><circle cx="449.9" cy="76.0" r="1.8"/><circle cx="450.6" cy="76.6" r="1.8"/><circle cx="451.5" cy="77.2" r="1.8"/><circle cx="451.4" cy="77.1" r="1.8"/><circle cx="451.9" cy="77.5" r="1.8"/><circle cx="452.7" cy="78.1" r="1.8"/><circle cx="453.9" cy="78.9" r="1.8"/><circle cx="454.8" cy="79.6" r="1.8"/><circle cx="455.8" cy="80.4" r="1.8"/><circle cx="456.3" cy="80.8" r="1.8"/><circle cx="456.9" cy="81.2" r="1.8"/><circle cx="457.8" cy="81.9" r="1.8"/><circle cx="458.1" cy="82.2" r="1.8"/><circle cx="459.0" cy="82.8" r="1.8"/><circle cx="459.1" cy="82.9" r="1.8"/><circle cx="460.7" cy="84.1" r="1.8"/><circle cx="460.7" cy="84.2" r="1.8"/><circle cx="462.2" cy="85.4" r="1.8"/><circle cx="462.6" cy="85.7" r="1.8"/><circle cx="463.0" cy="85.9" r="1.8"/><circle cx="463.5" cy="86.3" r="1.8"/><circle cx="464.3" cy="87.0" r="1.8"/><circle cx="465.4" cy="87.9" r="1.8"/><circle cx="466.2" cy="88.6" r="1.8"/><circle cx="466.3" cy="88.6" r="1.8"/><circle cx="466.9" cy="89.1" r="1.8"/><circle cx="468.1" cy="90.1" r="1.8"/><circle cx="468.9" cy="90.8" r="1.8"/><circle cx="469.3" cy="91.2" r="1.8"/><circle cx="469.9" cy="91.6" r="1.8"/><circle cx="471.0" cy="92.5" r="1.8"/><circle cx="471.0" cy="92.6" r="1.8"/><circle cx="472.0" cy="93.4" r="1.8"/><circle cx="472.9" cy="94.2" r="1.8"/><circle cx="474.1" cy="95.2" r="1.8"/><circle cx="474.4" cy="95.5" r="1.8"/><circle cx="475.4" cy="96.4" r="1.8"/><circle cx="475.6" cy="96.6" r="1.8"/><circle cx="476.0" cy="96.9" r="1.8"/><circle cx="476.7" cy="97.5" r="1.8"/><circle cx="478.2" cy="98.8" r="1.8"/><circle cx="478.6" cy="99.2" r="1.8"/><circle cx="478.8" cy="99.4" r="1.8"/><circle cx="479.2" cy="99.7" r="1.8"/><circle cx="480.4" cy="100.8" r="1.8"/><circle cx="481.2" cy="101.6" r="1.8"/><circle cx="481.6" cy="101.9" r="1.8"/><circle cx="482.1" cy="102.4" r="1.8"/><circle cx="483.2" cy="103.4" r="1.8"/><circle cx="484.1" cy="104.3" r="1.8"/><circle cx="484.1" cy="104.2" r="1.8"/><circle cx="484.5" cy="104.6" r="1.8"/><circle cx="485.5" cy="105.6" r="1.8"/><circle cx="486.3" cy="106.3" r="1.8"/><circle cx="487.2" cy="107.1" r="1.8"/><circle cx="487.3" cy="107.3" r="1.8"/><circle cx="488.6" cy="108.5" r="1.8"/><circle cx="489.2" cy="109.1" r="1.8"/><circle cx="489.6" cy="109.5" r="1.8"/><circle cx="490.0" cy="109.8" r="1.8"/><circle cx="491.4" cy="111.2" r="1.8"/><circle cx="491.4" cy="111.2" r="1.8"/><circle cx="492.5" cy="112.3" r="1.8"/><circle cx="492.6" cy="112.3" r="1.8"/><circle cx="493.2" cy="113.0" r="1.8"/><circle cx="494.4" cy="114.2" r="1.8"/><circle cx="494.6" cy="114.3" r="1.8"/><circle cx="495.9" cy="115.6" r="1.8"/><circle cx="496.1" cy="115.8" r="1.8"/><circle cx="496.4" cy="116.1" r="1.8"/><circle cx="497.0" cy="116.8" r="1.8"/><circle cx="497.9" cy="117.7" r="1.8"/><circle cx="498.8" cy="118.6" r="1.8"/><circle cx="499.7" cy="119.5" r="1.8"/><circle cx="499.5" cy="119.3" r="1.8"/><circle cx="500.4" cy="120.2" r="1.8"/><circle cx="500.8" cy="120.7" r="1.8"/><circle cx="502.2" cy="122.1" r="1.8"/><circle cx="502.0" cy="121.9" r="1.8"/><circle cx="502.6" cy="122.5" r="1.8"/><circle cx="503.2" cy="123.1" r="1.8"/><circle cx="504.1" cy="124.1" r="1.8"/><circle cx="505.3" cy="125.3" r="1.8"/><circle cx="505.9" cy="126.0" r="1.8"/><circle cx="506.3" cy="126.5" r="1.8"/><circle cx="507.2" cy="127.4" r="1.8"/><circle cx="507.8" cy="128.0" r="1.8"/><circle cx="507.8" cy="128.0" r="1.8"/><circle cx="508.3" cy="128.5" r="1.8"/><circle cx="509.6" cy="130.0" r="1.8"/><circle cx="510.0" cy="130.5" r="1.8"/><circle cx="509.9" cy="130.4" r="1.8"/><circle cx="511.2" cy="131.7" r="1.8"/><circle cx="511.5" cy="132.1" r="1.8"/><circle cx="512.1" cy="132.7" r="1.8"/><circle cx="512.7" cy="133.4" r="1.8"/><circle cx="513.1" cy="133.9" r="1.8"/><circle cx="513.6" cy="134.4" r="1.8"/><circle cx="514.4" cy="135.3" r="1.8"/><circle cx="515.1" cy="136.1" r="1.8"/><circle cx="516.3" cy="137.4" r="1.8"/><circle cx="516.1" cy="137.2" r="1.8"/><circle cx="517.5" cy="138.8" r="1.8"/><circle cx="517.4" cy="138.6" r="1.8"/><circle cx="518.1" cy="139.5" r="1.8"/><circle cx="519.1" cy="140.7" r="1.8"/><circle cx="519.7" cy="141.4" r="1.8"/><circle cx="520.0" cy="141.6" r="1.8"/><circle cx="520.2" cy="141.9" r="1.8"/><circle cx="521.2" cy="143.0" r="1.8"/><circle cx="521.7" cy="143.6" r="1.8"/><circle cx="522.8" cy="144.9" r="1.8"/><circle cx="522.7" cy="144.8" r="1.8"/><circle cx="523.4" cy="145.7" r="1.8"/><circle cx="524.5" cy="146.9" r="1.8"/><circle cx="524.3" cy="146.7" r="1.8"/><circle cx="525.2" cy="147.8" r="1.8"/><circle cx="526.2" cy="148.9" r="1.8"/><circle cx="526.7" cy="149.6" r="1.8"/><circle cx="526.6" cy="149.5" r="1.8"/><circle cx="527.2" cy="150.1" r="1.8"/><circle cx="527.8" cy="150.9" r="1.8"/><circle cx="529.2" cy="152.5" r="1.8"/><circle cx="529.1" cy="152.5" r="1.8"/><circle cx="530.2" cy="153.7" r="1.8"/><circle cx="530.9" cy="154.6" r="1.8"/><circle cx="530.9" cy="154.7" r="1.8"/><circle cx="531.5" cy="155.3" r="1.8"/><circle cx="532.6" cy="156.8" r="1.8"/><circle cx="532.9" cy="157.1" r="1.8"/><circle cx="533.2" cy="157.4" r="1.8"/><circle cx="534.1" cy="158.6" r="1.8"/><circle cx="534.3" cy="158.9" r="1.8"/><circle cx="534.9" cy="159.5" r="1.8"/><circle cx="535.2" cy="159.9" r="1.8"/><circle cx="536.4" cy="161.5" r="1.8"/><circle cx="537.1" cy="162.4" r="1.8"/><circle cx="537.4" cy="162.8" r="1.8"/><circle cx="538.3" cy="163.8" r="1.8"/><circle cx="538.0" cy="163.5" r="1.8"/><circle cx="538.8" cy="164.4" r="1.8"/><circle cx="539.5" cy="165.4" r="1.8"/><circle cx="540.5" cy="166.7" r="1.8"/><circle cx="541.1" cy="167.4" r="1.8"/><circle cx="541.1" cy="167.5" r="1.8"/><circle cx="541.6" cy="168.0" r="1.8"/><circle cx="542.3" cy="168.9" r="1.8"/><circle cx="542.9" cy="169.7" r="1.8"/><circle cx="543.8" cy="170.9" r="1.8"/><circle cx="543.7" cy="170.8" r="1.8"/><circle cx="544.8" cy="172.2" r="1.8"/><circle cx="545.1" cy="172.6" r="1.8"/><circle cx="334.5" cy="34.6" r="1.8"/><circle cx="338.1" cy="34.6" r="1.8"/><circle cx="341.7" cy="34.8" r="1.8"/><circle cx="345.7" cy="35.0" r="1.8"/><circle cx="357.0" cy="36.2" r="1.8"/><circle cx="360.0" cy="36.6" r="1.8"/><circle cx="366.9" cy="37.9" r="1.8"/><circle cx="370.1" cy="38.5" r="1.8"/><circle cx="375.6" cy="39.8" r="1.8"/><circle cx="384.0" cy="42.2" r="1.8"/></g>
<g class="m"><circle cx="389.5" cy="44.0" r="1.75"/><circle cx="388.1" cy="43.5" r="1.75"/><circle cx="393.4" cy="45.4" r="1.75"/><circle cx="395.4" cy="46.1" r="1.75"/><circle cx="392.7" cy="45.1" r="1.75"/><circle cx="401.5" cy="48.7" r="1.75"/><circle cx="398.5" cy="47.3" r="1.75"/><circle cx="402.5" cy="48.9" r="1.75"/><circle cx="402.7" cy="49.1" r="1.75"/><circle cx="407.9" cy="51.4" r="1.75"/><circle cx="409.8" cy="52.4" r="1.75"/><circle cx="409.5" cy="52.1" r="1.75"/><circle cx="414.5" cy="54.5" r="1.75"/><circle cx="413.3" cy="54.1" r="1.75"/><circle cx="417.6" cy="56.1" r="1.75"/><circle cx="422.5" cy="58.6" r="1.75"/><circle cx="423.3" cy="59.3" r="1.75"/><circle cx="420.7" cy="57.8" r="1.75"/><circle cx="427.7" cy="61.4" r="1.75"/><circle cx="425.9" cy="60.6" r="1.75"/><circle cx="432.4" cy="64.6" r="1.75"/><circle cx="430.7" cy="63.3" r="1.75"/><circle cx="431.9" cy="64.2" r="1.75"/><circle cx="432.9" cy="64.7" r="1.75"/><circle cx="435.5" cy="66.3" r="1.75"/><circle cx="437.3" cy="67.6" r="1.75"/><circle cx="442.1" cy="70.5" r="1.75"/><circle cx="442.1" cy="70.5" r="1.75"/><circle cx="443.8" cy="71.9" r="1.75"/><circle cx="447.1" cy="74.1" r="1.75"/><circle cx="448.3" cy="74.9" r="1.75"/><circle cx="448.2" cy="74.9" r="1.75"/><circle cx="452.0" cy="77.6" r="1.75"/><circle cx="457.2" cy="81.5" r="1.75"/><circle cx="455.5" cy="80.3" r="1.75"/><circle cx="461.1" cy="84.4" r="1.75"/><circle cx="461.3" cy="84.6" r="1.75"/><circle cx="464.2" cy="87.1" r="1.75"/><circle cx="463.3" cy="86.1" r="1.75"/><circle cx="463.4" cy="86.5" r="1.75"/><circle cx="468.3" cy="90.0" r="1.75"/><circle cx="469.8" cy="91.6" r="1.75"/><circle cx="468.8" cy="90.8" r="1.75"/><circle cx="474.9" cy="96.1" r="1.75"/><circle cx="476.3" cy="96.9" r="1.75"/><circle cx="474.2" cy="95.4" r="1.75"/><circle cx="477.7" cy="98.6" r="1.75"/><circle cx="479.2" cy="99.6" r="1.75"/><circle cx="483.1" cy="103.4" r="1.75"/><circle cx="481.5" cy="102.0" r="1.75"/><circle cx="486.5" cy="106.5" r="1.75"/><circle cx="486.0" cy="105.9" r="1.75"/><circle cx="486.1" cy="106.2" r="1.75"/><circle cx="491.8" cy="111.8" r="1.75"/><circle cx="492.8" cy="112.8" r="1.75"/><circle cx="491.2" cy="111.0" r="1.75"/><circle cx="495.4" cy="115.2" r="1.75"/><circle cx="496.9" cy="116.7" r="1.75"/><circle cx="497.8" cy="117.5" r="1.75"/><circle cx="500.4" cy="120.1" r="1.75"/><circle cx="502.8" cy="122.6" r="1.75"/><circle cx="501.3" cy="121.1" r="1.75"/><circle cx="502.6" cy="122.5" r="1.75"/><circle cx="505.9" cy="125.8" r="1.75"/><circle cx="508.3" cy="128.8" r="1.75"/><circle cx="510.7" cy="131.1" r="1.75"/><circle cx="510.9" cy="131.6" r="1.75"/><circle cx="510.8" cy="131.3" r="1.75"/><circle cx="515.3" cy="136.1" r="1.75"/><circle cx="517.9" cy="139.4" r="1.75"/><circle cx="519.1" cy="140.8" r="1.75"/><circle cx="520.6" cy="142.5" r="1.75"/><circle cx="521.3" cy="143.4" r="1.75"/><circle cx="520.7" cy="142.3" r="1.75"/><circle cx="523.3" cy="145.3" r="1.75"/><circle cx="523.6" cy="145.8" r="1.75"/><circle cx="523.9" cy="146.2" r="1.75"/><circle cx="529.8" cy="153.4" r="1.75"/><circle cx="527.7" cy="150.5" r="1.75"/><circle cx="530.9" cy="154.5" r="1.75"/><circle cx="533.9" cy="158.3" r="1.75"/><circle cx="535.3" cy="160.3" r="1.75"/><circle cx="535.6" cy="160.6" r="1.75"/><circle cx="535.6" cy="160.2" r="1.75"/><circle cx="537.4" cy="162.6" r="1.75"/><circle cx="538.0" cy="163.2" r="1.75"/><circle cx="542.2" cy="169.0" r="1.75"/><circle cx="544.5" cy="171.8" r="1.75"/><circle cx="542.7" cy="169.5" r="1.75"/><circle cx="543.5" cy="170.5" r="1.75"/><circle cx="352.0" cy="35.6" r="1.75"/><circle cx="353.5" cy="35.7" r="1.75"/><circle cx="362.9" cy="37.1" r="1.75"/><circle cx="378.7" cy="40.7" r="1.75"/><circle cx="381.3" cy="41.4" r="1.75"/><circle cx="383.6" cy="42.1" r="1.75"/><circle cx="386.1" cy="42.9" r="1.75"/></g>
<text class="t" x="334.5" y="182.3" text-anchor="middle">0</text>
<text class="t" x="376.6" y="182.3" text-anchor="middle">0.2</text>
<text class="t" x="418.7" y="182.3" text-anchor="middle">0.4</text>
<text class="t" x="460.9" y="182.3" text-anchor="middle">0.6</text>
<text class="t" x="503.0" y="182.3" text-anchor="middle">0.8</text>
<text class="t" x="545.1" y="182.3" text-anchor="middle">1</text>
<text class="t" x="331.9" y="174.9" text-anchor="end">0</text>
<text class="t" x="331.9" y="147.3" text-anchor="end">0.2</text>
<text class="t" x="331.9" y="119.7" text-anchor="end">0.4</text>
<text class="t" x="331.9" y="92.1" text-anchor="end">0.6</text>
<text class="t" x="331.9" y="64.5" text-anchor="end">0.8</text>
<text class="t" x="331.9" y="36.9" text-anchor="end">1</text>
<text class="t" x="331.9" y="9.3" text-anchor="end">1.2</text>
<text class="xl" x="439.3" y="191.1" text-anchor="middle">f1(x)</text>
<text class="xl" transform="translate(319.3 89.5) rotate(-90)" text-anchor="middle">f2(x)</text>
<rect x="484.2" y="12.3" width="55.2" height="25.0" fill="#fff" stroke="#777" stroke-width=".7"/>
<line x1="486.2" y1="16.9" x2="504.7" y2="16.9" stroke="#000" stroke-width="1.8"/>
<circle class="b" cx="495.5" cy="25.1" r="2"/>
<circle class="m" cx="495.5" cy="33.3" r="1.85"/>
<text class="l" x="507.2" y="19.0">Pareto front</text>
<text class="l" x="507.2" y="27.2">M-MOPSO</text>
<text class="l" x="507.2" y="35.4">NSGA-II</text>
<text class="c" x="406.3" y="207.1">(<tspan font-weight="bold">b</tspan>) ZDT2</text>
</g>
<g id="c">
<rect class="ax" x="27.4" y="211.5" width="209.1" height="166.0"/><path class="tk" d="M69.2 377.5v-2M69.2 211.5v2M111.0 377.5v-2M111.0 211.5v2M152.9 377.5v-2M152.9 211.5v2M194.7 377.5v-2M194.7 211.5v2M27.4 362.4h2M236.5 362.4h-2M27.4 347.3h2M236.5 347.3h-2M27.4 332.2h2M236.5 332.2h-2M27.4 317.1h2M236.5 317.1h-2M27.4 302.0h2M236.5 302.0h-2M27.4 287.0h2M236.5 287.0h-2M27.4 271.9h2M236.5 271.9h-2M27.4 256.8h2M236.5 256.8h-2M27.4 241.7h2M236.5 241.7h-2M27.4 226.6h2M236.5 226.6h-2"/>
<polyline points="27.4,241.7 27.9,245.5 28.4,247.1 29.0,248.3 29.5,249.5 30.0,250.5 30.5,251.4 31.1,252.4 31.6,253.2 32.1,254.1 32.6,254.9 33.2,255.8 33.7,256.6 34.2,257.4 34.7,258.2 35.2,258.9 35.8,259.6 36.3,260.4 36.8,261.0 37.3,261.7 37.9,262.3 38.4,262.9 38.9,263.5 39.4,264.0 39.9,264.5 40.5,264.9 41.0,265.3 41.5,265.6 42.0,265.9 42.6,266.2 43.1,266.3 43.6,266.5 44.1,266.6 44.7,266.6 45.2,266.6 45.7,266.5 46.2,266.4 46.7,266.3 47.3,266.1 47.8,265.8 48.3,265.5 48.8,265.2 49.4,264.9 49.9,264.5 50.4,264.1 50.9,263.7 51.4,263.3 52.0,262.9 52.5,262.5 53.0,262.1 53.5,261.7 54.1,261.3 54.6,261.0 55.1,260.6 55.6,260.3 56.2,260.1 56.7,259.9 57.2,259.7 57.7,259.6 58.2,259.6 58.8,259.6 59.3,259.7 59.8,259.8 60.3,260.1 60.9,260.4 61.4,260.8 61.9,261.2 62.4,261.8 62.9,262.4 63.5,263.1 64.0,263.9 64.5,264.8 65.0,265.7 65.6,266.7 66.1,267.8 66.6,268.9 67.1,270.1 67.7,271.4 68.2,272.7 68.7,274.0 69.2,275.4 69.7,276.8 70.3,278.3 70.8,279.7 71.3,281.2 71.8,282.6 72.4,284.0 72.9,285.4 73.4,286.8 73.9,288.2 74.4,289.5 75.0,290.7 75.5,291.9 76.0,293.0 76.5,294.1 77.1,295.0 77.6,295.9 78.1,296.6 78.6,297.3 79.2,297.8 79.7,298.3 80.2,298.6 80.7,298.8 81.2,298.9 81.8,298.8 82.3,298.6 82.8,298.3 83.3,297.9 83.9,297.4 84.4,296.7 84.9,295.9 85.4,295.0 85.9,294.0 86.5,292.9 87.0,291.7 87.5,290.4 88.0,289.1 88.6,287.6 89.1,286.1 89.6,284.6 90.1,283.0 90.7,281.4 91.2,279.8 91.7,278.1 92.2,276.5 92.7,274.8 93.3,273.2 93.8,271.7 94.3,270.2 94.8,268.7 95.4,267.4 95.9,266.1 96.4,264.9 96.9,263.8 97.4,262.8 98.0,262.0 98.5,261.3 99.0,260.7 99.5,260.3 100.1,260.0 100.6,259.9 101.1,260.0 101.6,260.2 102.2,260.6 102.7,261.1 103.2,261.8 103.7,262.7 104.2,263.8 104.8,265.0 105.3,266.4 105.8,267.9 106.3,269.5 106.9,271.3 107.4,273.3 107.9,275.3 108.4,277.5 108.9,279.7 109.5,282.0 110.0,284.4 110.5,286.9 111.0,289.4 111.6,291.9 112.1,294.5 112.6,297.0 113.1,299.6 113.7,302.1 114.2,304.5 114.7,306.9 115.2,309.2 115.7,311.4 116.3,313.5 116.8,315.5 117.3,317.4 117.8,319.1 118.4,320.7 118.9,322.1 119.4,323.3 119.9,324.3 120.4,325.2 121.0,325.8 121.5,326.3 122.0,326.5 122.5,326.5 123.1,326.3 123.6,325.9 124.1,325.2 124.6,324.4 125.2,323.3 125.7,322.1 126.2,320.7 126.7,319.0 127.2,317.2 127.8,315.2 128.3,313.1 128.8,310.8 129.3,308.4 129.9,305.9 130.4,303.3 130.9,300.6 131.4,297.8 131.9,295.0 132.5,292.2 133.0,289.3 133.5,286.5 134.0,283.7 134.6,280.9 135.1,278.2 135.6,275.6 136.1,273.0 136.7,270.6 137.2,268.3 137.7,266.2 138.2,264.3 138.7,262.5 139.3,260.9 139.8,259.5 140.3,258.4 140.8,257.5 141.4,256.8 141.9,256.3 142.4,256.1 142.9,256.2 143.5,256.5 144.0,257.1 144.5,258.0 145.0,259.1 145.5,260.4 146.1,262.0 146.6,263.9 147.1,265.9 147.6,268.2 148.2,270.7 148.7,273.4 149.2,276.3 149.7,279.4 150.2,282.6 150.8,285.9 151.3,289.3 151.8,292.9 152.3,296.5 152.9,300.1 153.4,303.8 153.9,307.5 154.4,311.2 155.0,314.8 155.5,318.4 156.0,321.9 156.5,325.3 157.0,328.6 157.6,331.7 158.1,334.7 158.6,337.5 159.1,340.0 159.7,342.4 160.2,344.5 160.7,346.4 161.2,348.0 161.7,349.3 162.3,350.3 162.8,351.1 163.3,351.6 163.8,351.7 164.4,351.6 164.9,351.1 165.4,350.3 165.9,349.3 166.5,347.9 167.0,346.3 167.5,344.3 168.0,342.1 168.5,339.7 169.1,337.0 169.6,334.1 170.1,330.9 170.6,327.6 171.2,324.1 171.7,320.4 172.2,316.7 172.7,312.8 173.2,308.8 173.8,304.8 174.3,300.8 174.8,296.7 175.3,292.7 175.9,288.7 176.4,284.8 176.9,281.0 177.4,277.3 178.0,273.8 178.5,270.4 179.0,267.2 179.5,264.3 180.0,261.6 180.6,259.1 181.1,257.0 181.6,255.1 182.1,253.5 182.7,252.2 183.2,251.3 183.7,250.7 184.2,250.4 184.7,250.5 185.3,251.0 185.8,251.8 186.3,252.9 186.8,254.4 187.4,256.2 187.9,258.4 188.4,260.9 188.9,263.7 189.5,266.8 190.0,270.1 190.5,273.7 191.0,277.6 191.5,281.6 192.1,285.9 192.6,290.3 193.1,294.9 193.6,299.6 194.2,304.3 194.7,309.2 195.2,314.0 195.7,318.9 196.2,323.7 196.8,328.5 197.3,333.2 197.8,337.7 198.3,342.1 198.9,346.4 199.4,350.4 199.9,354.2 200.4,357.8 201.0,361.1 201.5,364.1 202.0,366.8 202.5,369.1 203.0,371.1 203.6,372.8 204.1,374.0 204.6,374.9 205.1,375.4 205.7,375.5 206.2,375.2 206.7,374.5 207.2,373.4 207.7,371.9 208.3,370.0 208.8,367.8 209.3,365.2 209.8,362.2 210.4,358.9 210.9,355.4 211.4,351.5 211.9,347.4 212.5,343.0 213.0,338.4 213.5,333.6 214.0,328.7 214.5,323.6 215.1,318.5 215.6,313.3 216.1,308.0 216.6,302.8 217.2,297.6 217.7,292.4 218.2,287.4 218.7,282.5 219.2,277.8 219.8,273.3 220.3,268.9 220.8,264.9 221.3,261.1 221.9,257.7 222.4,254.6 222.9,251.8 223.4,249.4 224.0,247.4 224.5,245.8 225.0,244.6 225.5,243.9 226.0,243.5 226.6,243.7 227.1,244.2 227.6,245.3 228.1,246.7 228.7,248.6 229.2,250.9 229.7,253.7 230.2,256.8 230.7,260.3 231.3,264.2 231.8,268.4 232.3,272.9 232.8,277.7 233.4,282.8 233.9,288.1 234.4,293.7 234.9,299.4 235.5,305.2 236.0,311.1 236.5,317.1" fill="none" stroke="#1a1a1a" stroke-width="0.8" stroke-linejoin="round"/>
<g class="b"><circle cx="27.4" cy="241.7" r="1.8"/><circle cx="27.5" cy="243.0" r="1.8"/><circle cx="27.5" cy="242.9" r="1.8"/><circle cx="27.6" cy="243.8" r="1.8"/><circle cx="27.8" cy="245.1" r="1.8"/><circle cx="27.8" cy="245.1" r="1.8"/><circle cx="28.0" cy="245.9" r="1.8"/><circle cx="28.4" cy="247.1" r="1.8"/><circle cx="28.6" cy="247.5" r="1.8"/><circle cx="29.1" cy="248.6" r="1.8"/><circle cx="29.4" cy="249.2" r="1.8"/><circle cx="29.9" cy="250.3" r="1.8"/><circle cx="30.3" cy="251.1" r="1.8"/><circle cx="30.5" cy="251.3" r="1.8"/><circle cx="31.2" cy="252.5" r="1.8"/><circle cx="31.5" cy="253.1" r="1.8"/><circle cx="31.7" cy="253.4" r="1.8"/><circle cx="32.6" cy="255.0" r="1.8"/><circle cx="32.6" cy="254.9" r="1.8"/><circle cx="33.0" cy="255.5" r="1.8"/><circle cx="33.4" cy="256.1" r="1.8"/><circle cx="34.2" cy="257.4" r="1.8"/><circle cx="34.8" cy="258.3" r="1.8"/><circle cx="35.2" cy="258.9" r="1.8"/><circle cx="35.4" cy="259.1" r="1.8"/><circle cx="35.8" cy="259.7" r="1.8"/><circle cx="36.1" cy="260.1" r="1.8"/><circle cx="37.1" cy="261.4" r="1.8"/><circle cx="37.5" cy="261.9" r="1.8"/><circle cx="37.9" cy="262.3" r="1.8"/><circle cx="38.7" cy="263.2" r="1.8"/><circle cx="39.0" cy="263.6" r="1.8"/><circle cx="40.1" cy="264.6" r="1.8"/><circle cx="40.6" cy="265.0" r="1.8"/><circle cx="40.7" cy="265.1" r="1.8"/><circle cx="42.1" cy="266.0" r="1.8"/><circle cx="41.8" cy="265.8" r="1.8"/><circle cx="43.2" cy="266.4" r="1.8"/><circle cx="43.8" cy="266.5" r="1.8"/><circle cx="44.8" cy="266.6" r="1.8"/><circle cx="65.5" cy="266.6" r="1.8"/><circle cx="65.6" cy="266.8" r="1.8"/><circle cx="66.1" cy="267.8" r="1.8"/><circle cx="66.4" cy="268.5" r="1.8"/><circle cx="67.0" cy="269.8" r="1.8"/><circle cx="67.4" cy="270.8" r="1.8"/><circle cx="67.6" cy="271.3" r="1.8"/><circle cx="67.7" cy="271.6" r="1.8"/><circle cx="68.3" cy="273.0" r="1.8"/><circle cx="68.3" cy="273.1" r="1.8"/><circle cx="68.6" cy="273.8" r="1.8"/><circle cx="69.2" cy="275.3" r="1.8"/><circle cx="69.3" cy="275.8" r="1.8"/><circle cx="69.7" cy="276.6" r="1.8"/><circle cx="69.9" cy="277.3" r="1.8"/><circle cx="70.3" cy="278.5" r="1.8"/><circle cx="70.4" cy="278.6" r="1.8"/><circle cx="70.8" cy="279.8" r="1.8"/><circle cx="71.1" cy="280.4" r="1.8"/><circle cx="71.4" cy="281.4" r="1.8"/><circle cx="71.5" cy="281.6" r="1.8"/><circle cx="71.9" cy="282.8" r="1.8"/><circle cx="72.1" cy="283.3" r="1.8"/><circle cx="72.3" cy="283.8" r="1.8"/><circle cx="72.5" cy="284.4" r="1.8"/><circle cx="73.0" cy="285.7" r="1.8"/><circle cx="73.0" cy="285.8" r="1.8"/><circle cx="73.7" cy="287.6" r="1.8"/><circle cx="73.6" cy="287.4" r="1.8"/><circle cx="73.9" cy="288.0" r="1.8"/><circle cx="74.2" cy="288.9" r="1.8"/><circle cx="74.9" cy="290.6" r="1.8"/><circle cx="74.9" cy="290.7" r="1.8"/><circle cx="75.2" cy="291.2" r="1.8"/><circle cx="75.4" cy="291.8" r="1.8"/><circle cx="75.8" cy="292.5" r="1.8"/><circle cx="76.5" cy="294.0" r="1.8"/><circle cx="76.9" cy="294.7" r="1.8"/><circle cx="77.3" cy="295.4" r="1.8"/><circle cx="77.8" cy="296.2" r="1.8"/><circle cx="77.8" cy="296.1" r="1.8"/><circle cx="78.7" cy="297.3" r="1.8"/><circle cx="79.0" cy="297.7" r="1.8"/><circle cx="80.1" cy="298.6" r="1.8"/><circle cx="80.9" cy="298.8" r="1.8"/><circle cx="81.3" cy="298.9" r="1.8"/><circle cx="113.0" cy="298.9" r="1.8"/><circle cx="113.2" cy="300.0" r="1.8"/><circle cx="113.2" cy="300.0" r="1.8"/><circle cx="113.5" cy="301.2" r="1.8"/><circle cx="113.6" cy="301.8" r="1.8"/><circle cx="113.9" cy="303.2" r="1.8"/><circle cx="113.9" cy="303.3" r="1.8"/><circle cx="114.3" cy="304.9" r="1.8"/><circle cx="114.3" cy="304.9" r="1.8"/><circle cx="114.4" cy="305.6" r="1.8"/><circle cx="114.7" cy="307.0" r="1.8"/><circle cx="114.8" cy="307.5" r="1.8"/><circle cx="114.9" cy="307.8" r="1.8"/><circle cx="115.2" cy="309.3" r="1.8"/><circle cx="115.3" cy="309.4" r="1.8"/><circle cx="115.6" cy="311.0" r="1.8"/><circle cx="115.8" cy="311.7" r="1.8"/><circle cx="116.0" cy="312.6" r="1.8"/><circle cx="116.2" cy="313.2" r="1.8"/><circle cx="116.3" cy="313.6" r="1.8"/><circle cx="116.5" cy="314.5" r="1.8"/><circle cx="116.7" cy="315.2" r="1.8"/><circle cx="117.1" cy="316.6" r="1.8"/><circle cx="117.0" cy="316.4" r="1.8"/><circle cx="117.5" cy="318.2" r="1.8"/><circle cx="117.4" cy="317.9" r="1.8"/><circle cx="117.8" cy="318.9" r="1.8"/><circle cx="118.0" cy="319.7" r="1.8"/><circle cx="118.6" cy="321.2" r="1.8"/><circle cx="118.7" cy="321.5" r="1.8"/><circle cx="118.9" cy="322.1" r="1.8"/><circle cx="119.5" cy="323.5" r="1.8"/><circle cx="119.5" cy="323.4" r="1.8"/><circle cx="120.0" cy="324.4" r="1.8"/><circle cx="120.4" cy="325.2" r="1.8"/><circle cx="121.1" cy="326.0" r="1.8"/><circle cx="121.8" cy="326.4" r="1.8"/><circle cx="122.3" cy="326.5" r="1.8"/><circle cx="156.7" cy="326.4" r="1.8"/><circle cx="156.8" cy="327.0" r="1.8"/><circle cx="156.8" cy="327.4" r="1.8"/><circle cx="157.1" cy="328.7" r="1.8"/><circle cx="157.3" cy="330.0" r="1.8"/><circle cx="157.4" cy="330.6" r="1.8"/><circle cx="157.5" cy="331.2" r="1.8"/><circle cx="157.6" cy="332.2" r="1.8"/><circle cx="157.7" cy="332.8" r="1.8"/><circle cx="157.8" cy="333.1" r="1.8"/><circle cx="158.1" cy="334.5" r="1.8"/><circle cx="158.2" cy="335.1" r="1.8"/><circle cx="158.4" cy="336.3" r="1.8"/><circle cx="158.6" cy="337.3" r="1.8"/><circle cx="158.6" cy="337.5" r="1.8"/><circle cx="158.8" cy="338.5" r="1.8"/><circle cx="159.0" cy="339.5" r="1.8"/><circle cx="159.1" cy="339.9" r="1.8"/><circle cx="159.2" cy="340.4" r="1.8"/><circle cx="159.5" cy="341.9" r="1.8"/><circle cx="159.8" cy="342.9" r="1.8"/><circle cx="159.9" cy="343.5" r="1.8"/><circle cx="160.1" cy="344.2" r="1.8"/><circle cx="160.4" cy="345.2" r="1.8"/><circle cx="160.5" cy="345.8" r="1.8"/><circle cx="160.7" cy="346.5" r="1.8"/><circle cx="160.9" cy="347.0" r="1.8"/><circle cx="161.1" cy="347.6" r="1.8"/><circle cx="161.5" cy="348.8" r="1.8"/><circle cx="161.6" cy="348.9" r="1.8"/><circle cx="162.1" cy="350.0" r="1.8"/><circle cx="162.8" cy="351.1" r="1.8"/><circle cx="163.3" cy="351.6" r="1.8"/><circle cx="163.8" cy="351.7" r="1.8"/><circle cx="199.6" cy="351.7" r="1.8"/><circle cx="199.6" cy="352.1" r="1.8"/><circle cx="199.7" cy="353.0" r="1.8"/><circle cx="199.8" cy="353.3" r="1.8"/><circle cx="200.0" cy="354.6" r="1.8"/><circle cx="200.1" cy="355.3" r="1.8"/><circle cx="200.2" cy="356.4" r="1.8"/><circle cx="200.3" cy="356.7" r="1.8"/><circle cx="200.4" cy="357.4" r="1.8"/><circle cx="200.5" cy="358.1" r="1.8"/><circle cx="200.7" cy="359.5" r="1.8"/><circle cx="200.8" cy="360.4" r="1.8"/><circle cx="200.9" cy="360.7" r="1.8"/><circle cx="200.9" cy="361.1" r="1.8"/><circle cx="201.2" cy="362.5" r="1.8"/><circle cx="201.2" cy="362.8" r="1.8"/><circle cx="201.3" cy="363.3" r="1.8"/><circle cx="201.5" cy="363.9" r="1.8"/><circle cx="201.7" cy="365.5" r="1.8"/><circle cx="201.9" cy="366.2" r="1.8"/><circle cx="202.0" cy="366.8" r="1.8"/><circle cx="202.1" cy="367.3" r="1.8"/><circle cx="202.3" cy="368.2" r="1.8"/><circle cx="202.4" cy="368.5" r="1.8"/><circle cx="202.8" cy="370.1" r="1.8"/><circle cx="202.8" cy="370.1" r="1.8"/><circle cx="203.1" cy="371.2" r="1.8"/><circle cx="203.4" cy="372.1" r="1.8"/><circle cx="203.6" cy="372.9" r="1.8"/><circle cx="203.7" cy="373.2" r="1.8"/><circle cx="203.9" cy="373.7" r="1.8"/><circle cx="204.4" cy="374.6" r="1.8"/><circle cx="204.6" cy="374.8" r="1.8"/><circle cx="205.5" cy="375.5" r="1.8"/></g>
<g class="m"><circle cx="27.5" cy="241.5" r="1.75"/><circle cx="27.8" cy="244.4" r="1.75"/><circle cx="27.7" cy="244.2" r="1.75"/><circle cx="29.7" cy="249.7" r="1.75"/><circle cx="29.5" cy="249.5" r="1.75"/><circle cx="33.2" cy="255.7" r="1.75"/><circle cx="30.9" cy="251.9" r="1.75"/><circle cx="34.0" cy="257.0" r="1.75"/><circle cx="34.1" cy="257.4" r="1.75"/><circle cx="34.8" cy="258.4" r="1.75"/><circle cx="39.7" cy="264.2" r="1.75"/><circle cx="39.0" cy="263.5" r="1.75"/><circle cx="44.6" cy="266.5" r="1.75"/><circle cx="44.9" cy="266.5" r="1.75"/><circle cx="65.6" cy="266.7" r="1.75"/><circle cx="67.8" cy="271.9" r="1.75"/><circle cx="66.2" cy="268.4" r="1.75"/><circle cx="69.3" cy="275.7" r="1.75"/><circle cx="69.6" cy="276.4" r="1.75"/><circle cx="69.1" cy="274.9" r="1.75"/><circle cx="70.5" cy="278.7" r="1.75"/><circle cx="71.1" cy="280.8" r="1.75"/><circle cx="72.2" cy="284.0" r="1.75"/><circle cx="73.6" cy="287.1" r="1.75"/><circle cx="73.0" cy="285.9" r="1.75"/><circle cx="76.2" cy="293.6" r="1.75"/><circle cx="76.5" cy="294.2" r="1.75"/><circle cx="76.2" cy="293.0" r="1.75"/><circle cx="76.8" cy="294.7" r="1.75"/><circle cx="81.1" cy="298.9" r="1.75"/><circle cx="112.9" cy="298.7" r="1.75"/><circle cx="114.1" cy="304.0" r="1.75"/><circle cx="113.4" cy="301.2" r="1.75"/><circle cx="114.6" cy="306.7" r="1.75"/><circle cx="115.7" cy="311.5" r="1.75"/><circle cx="115.3" cy="309.6" r="1.75"/><circle cx="115.5" cy="310.7" r="1.75"/><circle cx="116.5" cy="314.4" r="1.75"/><circle cx="117.1" cy="317.0" r="1.75"/><circle cx="118.8" cy="322.4" r="1.75"/><circle cx="118.1" cy="320.1" r="1.75"/><circle cx="122.2" cy="326.5" r="1.75"/><circle cx="120.5" cy="325.0" r="1.75"/><circle cx="156.7" cy="326.4" r="1.75"/><circle cx="157.2" cy="329.8" r="1.75"/><circle cx="158.0" cy="334.6" r="1.75"/><circle cx="158.2" cy="335.7" r="1.75"/><circle cx="158.9" cy="339.7" r="1.75"/><circle cx="158.4" cy="335.9" r="1.75"/><circle cx="159.2" cy="341.0" r="1.75"/><circle cx="160.0" cy="343.5" r="1.75"/><circle cx="160.9" cy="346.6" r="1.75"/><circle cx="161.1" cy="347.1" r="1.75"/><circle cx="162.9" cy="351.4" r="1.75"/><circle cx="162.1" cy="349.6" r="1.75"/><circle cx="199.7" cy="351.6" r="1.75"/><circle cx="199.7" cy="353.0" r="1.75"/><circle cx="199.7" cy="354.0" r="1.75"/><circle cx="200.2" cy="356.8" r="1.75"/><circle cx="200.8" cy="360.6" r="1.75"/><circle cx="201.4" cy="364.2" r="1.75"/><circle cx="202.1" cy="367.8" r="1.75"/><circle cx="202.9" cy="370.1" r="1.75"/><circle cx="203.3" cy="371.8" r="1.75"/><circle cx="202.5" cy="368.4" r="1.75"/><circle cx="203.3" cy="372.1" r="1.75"/><circle cx="204.3" cy="374.2" r="1.75"/></g>
<text class="t" x="27.4" y="386.5" text-anchor="middle">0</text>
<text class="t" x="69.2" y="386.5" text-anchor="middle">0.2</text>
<text class="t" x="111.0" y="386.5" text-anchor="middle">0.4</text>
<text class="t" x="152.9" y="386.5" text-anchor="middle">0.6</text>
<text class="t" x="194.7" y="386.5" text-anchor="middle">0.8</text>
<text class="t" x="236.5" y="386.5" text-anchor="middle">1</text>
<text class="t" x="24.8" y="379.8" text-anchor="end">-0.8</text>
<text class="t" x="24.8" y="364.7" text-anchor="end">-0.6</text>
<text class="t" x="24.8" y="349.6" text-anchor="end">-0.4</text>
<text class="t" x="24.8" y="334.5" text-anchor="end">-0.2</text>
<text class="t" x="24.8" y="319.4" text-anchor="end">0</text>
<text class="t" x="24.8" y="304.3" text-anchor="end">0.2</text>
<text class="t" x="24.8" y="289.3" text-anchor="end">0.4</text>
<text class="t" x="24.8" y="274.2" text-anchor="end">0.6</text>
<text class="t" x="24.8" y="259.1" text-anchor="end">0.8</text>
<text class="t" x="24.8" y="244.0" text-anchor="end">1</text>
<text class="t" x="24.8" y="228.9" text-anchor="end">1.2</text>
<text class="xl" x="131.9" y="395.4" text-anchor="middle">f1(x)</text>
<text class="xl" transform="translate(9.9 294.0) rotate(-90)" text-anchor="middle">f2(x)</text>
<rect x="176.0" y="216.4" width="55.7" height="25.3" fill="#fff" stroke="#777" stroke-width=".7"/>
<line x1="178.0" y1="221.0" x2="196.5" y2="221.0" stroke="#1a1a1a" stroke-width="0.95"/>
<circle class="b" cx="187.3" cy="229.2" r="2"/>
<circle class="m" cx="187.3" cy="237.4" r="1.85"/>
<text class="l" x="199.0" y="223.1">Pareto front</text>
<text class="l" x="199.0" y="231.3">M-MOPSO</text>
<text class="l" x="199.0" y="239.5">NSGA-II</text>
<text class="c" x="97.9" y="412.8">(<tspan font-weight="bold">c</tspan>) ZDT3</text>
</g>
<g id="d">
<rect class="ax" x="334.3" y="213.4" width="210.5" height="164.9"/><path class="tk" d="M360.6 378.3v-2M360.6 213.4v2M386.9 378.3v-2M386.9 213.4v2M413.2 378.3v-2M413.2 213.4v2M439.6 378.3v-2M439.6 213.4v2M465.9 378.3v-2M465.9 213.4v2M492.2 378.3v-2M492.2 213.4v2M518.5 378.3v-2M518.5 213.4v2M334.3 350.8h2M544.8 350.8h-2M334.3 323.3h2M544.8 323.3h-2M334.3 295.9h2M544.8 295.9h-2M334.3 268.4h2M544.8 268.4h-2M334.3 240.9h2M544.8 240.9h-2"/>
<polyline points="355.6,251.7 356.0,251.9 356.5,252.0 357.0,252.1 357.5,252.3 357.9,252.4 358.4,252.6 358.9,252.7 359.3,252.9 359.8,253.0 360.3,253.2 360.8,253.3 361.2,253.4 361.7,253.6 362.2,253.7 362.7,253.9 363.1,254.1 363.6,254.2 364.1,254.4 364.5,254.5 365.0,254.7 365.5,254.8 366.0,255.0 366.4,255.1 366.9,255.3 367.4,255.5 367.9,255.6 368.3,255.8 368.8,256.0 369.3,256.1 369.8,256.3 370.2,256.4 370.7,256.6 371.2,256.8 371.6,256.9 372.1,257.1 372.6,257.3 373.1,257.5 373.5,257.6 374.0,257.8 374.5,258.0 375.0,258.2 375.4,258.3 375.9,258.5 376.4,258.7 376.8,258.9 377.3,259.0 377.8,259.2 378.3,259.4 378.7,259.6 379.2,259.8 379.7,260.0 380.2,260.1 380.6,260.3 381.1,260.5 381.6,260.7 382.1,260.9 382.5,261.1 383.0,261.3 383.5,261.5 383.9,261.6 384.4,261.8 384.9,262.0 385.4,262.2 385.8,262.4 386.3,262.6 386.8,262.8 387.3,263.0 387.7,263.2 388.2,263.4 388.7,263.6 389.2,263.8 389.6,264.0 390.1,264.2 390.6,264.4 391.0,264.6 391.5,264.8 392.0,265.0 392.5,265.2 392.9,265.5 393.4,265.7 393.9,265.9 394.4,266.1 394.8,266.3 395.3,266.5 395.8,266.7 396.2,266.9 396.7,267.2 397.2,267.4 397.7,267.6 398.1,267.8 398.6,268.0 399.1,268.2 399.6,268.5 400.0,268.7 400.5,268.9 401.0,269.1 401.5,269.4 401.9,269.6 402.4,269.8 402.9,270.0 403.3,270.3 403.8,270.5 404.3,270.7 404.8,271.0 405.2,271.2 405.7,271.4 406.2,271.7 406.7,271.9 407.1,272.1 407.6,272.4 408.1,272.6 408.5,272.8 409.0,273.1 409.5,273.3 410.0,273.6 410.4,273.8 410.9,274.0 411.4,274.3 411.9,274.5 412.3,274.8 412.8,275.0 413.3,275.3 413.8,275.5 414.2,275.8 414.7,276.0 415.2,276.3 415.6,276.5 416.1,276.8 416.6,277.0 417.1,277.3 417.5,277.5 418.0,277.8 418.5,278.0 419.0,278.3 419.4,278.5 419.9,278.8 420.4,279.1 420.8,279.3 421.3,279.6 421.8,279.9 422.3,280.1 422.7,280.4 423.2,280.6 423.7,280.9 424.2,281.2 424.6,281.4 425.1,281.7 425.6,282.0 426.1,282.3 426.5,282.5 427.0,282.8 427.5,283.1 427.9,283.3 428.4,283.6 428.9,283.9 429.4,284.2 429.8,284.5 430.3,284.7 430.8,285.0 431.3,285.3 431.7,285.6 432.2,285.9 432.7,286.1 433.1,286.4 433.6,286.7 434.1,287.0 434.6,287.3 435.0,287.6 435.5,287.9 436.0,288.1 436.5,288.4 436.9,288.7 437.4,289.0 437.9,289.3 438.4,289.6 438.8,289.9 439.3,290.2 439.8,290.5 440.2,290.8 440.7,291.1 441.2,291.4 441.7,291.7 442.1,292.0 442.6,292.3 443.1,292.6 443.6,292.9 444.0,293.2 444.5,293.5 445.0,293.8 445.4,294.1 445.9,294.4 446.4,294.7 446.9,295.0 447.3,295.4 447.8,295.7 448.3,296.0 448.8,296.3 449.2,296.6 449.7,296.9 450.2,297.2 450.7,297.6 451.1,297.9 451.6,298.2 452.1,298.5 452.5,298.8 453.0,299.2 453.5,299.5 454.0,299.8 454.4,300.1 454.9,300.4 455.4,300.8 455.9,301.1 456.3,301.4 456.8,301.8 457.3,302.1 457.7,302.4 458.2,302.7 458.7,303.1 459.2,303.4 459.6,303.7 460.1,304.1 460.6,304.4 461.1,304.8 461.5,305.1 462.0,305.4 462.5,305.8 463.0,306.1 463.4,306.4 463.9,306.8 464.4,307.1 464.8,307.5 465.3,307.8 465.8,308.2 466.3,308.5 466.7,308.9 467.2,309.2 467.7,309.6 468.2,309.9 468.6,310.3 469.1,310.6 469.6,311.0 470.1,311.3 470.5,311.7 471.0,312.0 471.5,312.4 471.9,312.7 472.4,313.1 472.9,313.5 473.4,313.8 473.8,314.2 474.3,314.5 474.8,314.9 475.3,315.3 475.7,315.6 476.2,316.0 476.7,316.4 477.1,316.7 477.6,317.1 478.1,317.5 478.6,317.8 479.0,318.2 479.5,318.6 480.0,318.9 480.5,319.3 480.9,319.7 481.4,320.1 481.9,320.4 482.4,320.8 482.8,321.2 483.3,321.6 483.8,321.9 484.2,322.3 484.7,322.7 485.2,323.1 485.7,323.5 486.1,323.9 486.6,324.2 487.1,324.6 487.6,325.0 488.0,325.4 488.5,325.8 489.0,326.2 489.4,326.6 489.9,327.0 490.4,327.3 490.9,327.7 491.3,328.1 491.8,328.5 492.3,328.9 492.8,329.3 493.2,329.7 493.7,330.1 494.2,330.5 494.7,330.9 495.1,331.3 495.6,331.7 496.1,332.1 496.5,332.5 497.0,332.9 497.5,333.3 498.0,333.7 498.4,334.1 498.9,334.5 499.4,335.0 499.9,335.4 500.3,335.8 500.8,336.2 501.3,336.6 501.7,337.0 502.2,337.4 502.7,337.8 503.2,338.3 503.6,338.7 504.1,339.1 504.6,339.5 505.1,339.9 505.5,340.3 506.0,340.8 506.5,341.2 507.0,341.6 507.4,342.0 507.9,342.5 508.4,342.9 508.8,343.3 509.3,343.7 509.8,344.2 510.3,344.6 510.7,345.0 511.2,345.5 511.7,345.9 512.2,346.3 512.6,346.8 513.1,347.2 513.6,347.6 514.0,348.1 514.5,348.5 515.0,348.9 515.5,349.4 515.9,349.8 516.4,350.3 516.9,350.7 517.4,351.1 517.8,351.6 518.3,352.0 518.8,352.5 519.3,352.9 519.7,353.4 520.2,353.8 520.7,354.3 521.1,354.7 521.6,355.2 522.1,355.6 522.6,356.1 523.0,356.5 523.5,357.0 524.0,357.4 524.5,357.9 524.9,358.3 525.4,358.8 525.9,359.2 526.3,359.7 526.8,360.2 527.3,360.6 527.8,361.1 528.2,361.5 528.7,362.0 529.2,362.5 529.7,362.9 530.1,363.4 530.6,363.9 531.1,364.3 531.6,364.8 532.0,365.3 532.5,365.8 533.0,366.2 533.4,366.7 533.9,367.2 534.4,367.6 534.9,368.1 535.3,368.6 535.8,369.1 536.3,369.5 536.8,370.0 537.2,370.5 537.7,371.0 538.2,371.5 538.6,372.0 539.1,372.4 539.6,372.9 540.1,373.4 540.5,373.9 541.0,374.4 541.5,374.9 542.0,375.4 542.4,375.8 542.9,376.3 543.4,376.8 543.9,377.3 544.3,377.8 544.8,378.3" fill="none" stroke="#777" stroke-width="1.2" stroke-linejoin="round"/>
<g class="b"><circle cx="355.6" cy="251.7" r="1.8"/><circle cx="357.1" cy="252.2" r="1.8"/><circle cx="357.9" cy="252.4" r="1.8"/><circle cx="357.9" cy="252.4" r="1.8"/><circle cx="360.0" cy="253.1" r="1.8"/><circle cx="360.5" cy="253.2" r="1.8"/><circle cx="361.8" cy="253.6" r="1.8"/><circle cx="362.5" cy="253.9" r="1.8"/><circle cx="363.8" cy="254.3" r="1.8"/><circle cx="364.6" cy="254.5" r="1.8"/><circle cx="365.7" cy="254.9" r="1.8"/><circle cx="365.6" cy="254.9" r="1.8"/><circle cx="367.4" cy="255.5" r="1.8"/><circle cx="368.1" cy="255.7" r="1.8"/><circle cx="369.3" cy="256.1" r="1.8"/><circle cx="369.8" cy="256.3" r="1.8"/><circle cx="371.4" cy="256.9" r="1.8"/><circle cx="371.9" cy="257.0" r="1.8"/><circle cx="372.4" cy="257.2" r="1.8"/><circle cx="373.3" cy="257.5" r="1.8"/><circle cx="374.1" cy="257.8" r="1.8"/><circle cx="375.6" cy="258.4" r="1.8"/><circle cx="375.9" cy="258.5" r="1.8"/><circle cx="377.4" cy="259.1" r="1.8"/><circle cx="377.9" cy="259.3" r="1.8"/><circle cx="379.3" cy="259.8" r="1.8"/><circle cx="380.3" cy="260.2" r="1.8"/><circle cx="381.3" cy="260.6" r="1.8"/><circle cx="382.7" cy="261.1" r="1.8"/><circle cx="382.4" cy="261.0" r="1.8"/><circle cx="384.5" cy="261.9" r="1.8"/><circle cx="384.9" cy="262.0" r="1.8"/><circle cx="386.0" cy="262.5" r="1.8"/><circle cx="387.1" cy="262.9" r="1.8"/><circle cx="388.2" cy="263.4" r="1.8"/><circle cx="388.5" cy="263.5" r="1.8"/><circle cx="389.5" cy="263.9" r="1.8"/><circle cx="391.2" cy="264.7" r="1.8"/><circle cx="390.8" cy="264.5" r="1.8"/><circle cx="392.6" cy="265.3" r="1.8"/><circle cx="393.5" cy="265.7" r="1.8"/><circle cx="393.5" cy="265.7" r="1.8"/><circle cx="395.3" cy="266.5" r="1.8"/><circle cx="396.3" cy="267.0" r="1.8"/><circle cx="397.6" cy="267.5" r="1.8"/><circle cx="397.6" cy="267.6" r="1.8"/><circle cx="399.5" cy="268.4" r="1.8"/><circle cx="399.7" cy="268.5" r="1.8"/><circle cx="400.6" cy="268.9" r="1.8"/><circle cx="402.1" cy="269.7" r="1.8"/><circle cx="401.7" cy="269.5" r="1.8"/><circle cx="403.6" cy="270.4" r="1.8"/><circle cx="404.4" cy="270.8" r="1.8"/><circle cx="404.9" cy="271.0" r="1.8"/><circle cx="406.5" cy="271.8" r="1.8"/><circle cx="406.7" cy="271.9" r="1.8"/><circle cx="407.8" cy="272.4" r="1.8"/><circle cx="408.8" cy="272.9" r="1.8"/><circle cx="410.0" cy="273.6" r="1.8"/><circle cx="410.1" cy="273.6" r="1.8"/><circle cx="411.3" cy="274.2" r="1.8"/><circle cx="412.2" cy="274.7" r="1.8"/><circle cx="413.3" cy="275.3" r="1.8"/><circle cx="414.5" cy="275.9" r="1.8"/><circle cx="414.7" cy="276.0" r="1.8"/><circle cx="416.3" cy="276.9" r="1.8"/><circle cx="416.6" cy="277.0" r="1.8"/><circle cx="417.6" cy="277.6" r="1.8"/><circle cx="418.2" cy="277.9" r="1.8"/><circle cx="419.4" cy="278.5" r="1.8"/><circle cx="421.0" cy="279.4" r="1.8"/><circle cx="421.4" cy="279.6" r="1.8"/><circle cx="422.5" cy="280.2" r="1.8"/><circle cx="422.7" cy="280.3" r="1.8"/><circle cx="423.5" cy="280.8" r="1.8"/><circle cx="424.4" cy="281.3" r="1.8"/><circle cx="425.7" cy="282.0" r="1.8"/><circle cx="426.6" cy="282.6" r="1.8"/><circle cx="427.7" cy="283.2" r="1.8"/><circle cx="427.5" cy="283.1" r="1.8"/><circle cx="429.3" cy="284.2" r="1.8"/><circle cx="430.4" cy="284.8" r="1.8"/><circle cx="430.8" cy="285.0" r="1.8"/><circle cx="431.0" cy="285.1" r="1.8"/><circle cx="432.2" cy="285.9" r="1.8"/><circle cx="432.7" cy="286.1" r="1.8"/><circle cx="433.8" cy="286.8" r="1.8"/><circle cx="435.6" cy="287.9" r="1.8"/><circle cx="436.1" cy="288.2" r="1.8"/><circle cx="437.0" cy="288.8" r="1.8"/><circle cx="438.0" cy="289.4" r="1.8"/><circle cx="439.1" cy="290.0" r="1.8"/><circle cx="439.5" cy="290.3" r="1.8"/><circle cx="440.4" cy="290.9" r="1.8"/><circle cx="441.2" cy="291.4" r="1.8"/><circle cx="442.2" cy="292.0" r="1.8"/><circle cx="442.9" cy="292.5" r="1.8"/><circle cx="443.8" cy="293.1" r="1.8"/><circle cx="444.0" cy="293.2" r="1.8"/><circle cx="445.5" cy="294.2" r="1.8"/><circle cx="446.1" cy="294.5" r="1.8"/><circle cx="447.3" cy="295.3" r="1.8"/><circle cx="447.3" cy="295.3" r="1.8"/><circle cx="448.2" cy="295.9" r="1.8"/><circle cx="448.9" cy="296.4" r="1.8"/><circle cx="450.7" cy="297.6" r="1.8"/><circle cx="451.7" cy="298.3" r="1.8"/><circle cx="452.2" cy="298.6" r="1.8"/><circle cx="452.6" cy="298.9" r="1.8"/><circle cx="454.1" cy="299.9" r="1.8"/><circle cx="454.9" cy="300.4" r="1.8"/><circle cx="455.4" cy="300.8" r="1.8"/><circle cx="455.8" cy="301.1" r="1.8"/><circle cx="456.7" cy="301.7" r="1.8"/><circle cx="457.7" cy="302.4" r="1.8"/><circle cx="458.4" cy="302.8" r="1.8"/><circle cx="459.3" cy="303.5" r="1.8"/><circle cx="460.4" cy="304.3" r="1.8"/><circle cx="461.6" cy="305.2" r="1.8"/><circle cx="461.3" cy="304.9" r="1.8"/><circle cx="462.8" cy="306.0" r="1.8"/><circle cx="462.9" cy="306.1" r="1.8"/><circle cx="463.8" cy="306.7" r="1.8"/><circle cx="465.6" cy="308.0" r="1.8"/><circle cx="466.1" cy="308.4" r="1.8"/><circle cx="467.3" cy="309.3" r="1.8"/><circle cx="467.5" cy="309.4" r="1.8"/><circle cx="467.8" cy="309.6" r="1.8"/><circle cx="469.1" cy="310.6" r="1.8"/><circle cx="470.1" cy="311.4" r="1.8"/><circle cx="471.4" cy="312.3" r="1.8"/><circle cx="472.2" cy="313.0" r="1.8"/><circle cx="472.4" cy="313.1" r="1.8"/><circle cx="473.1" cy="313.6" r="1.8"/><circle cx="473.5" cy="313.9" r="1.8"/><circle cx="475.0" cy="315.1" r="1.8"/><circle cx="475.2" cy="315.3" r="1.8"/><circle cx="476.0" cy="315.8" r="1.8"/><circle cx="476.6" cy="316.3" r="1.8"/><circle cx="477.4" cy="316.9" r="1.8"/><circle cx="479.0" cy="318.2" r="1.8"/><circle cx="479.1" cy="318.2" r="1.8"/><circle cx="481.0" cy="319.7" r="1.8"/><circle cx="480.6" cy="319.5" r="1.8"/><circle cx="482.4" cy="320.9" r="1.8"/><circle cx="482.3" cy="320.7" r="1.8"/><circle cx="482.9" cy="321.3" r="1.8"/><circle cx="484.6" cy="322.6" r="1.8"/><circle cx="484.8" cy="322.7" r="1.8"/><circle cx="486.2" cy="323.9" r="1.8"/><circle cx="486.3" cy="324.0" r="1.8"/><circle cx="486.9" cy="324.4" r="1.8"/><circle cx="488.5" cy="325.8" r="1.8"/><circle cx="489.2" cy="326.4" r="1.8"/><circle cx="490.2" cy="327.2" r="1.8"/><circle cx="490.8" cy="327.7" r="1.8"/><circle cx="490.8" cy="327.7" r="1.8"/><circle cx="492.2" cy="328.9" r="1.8"/><circle cx="493.1" cy="329.6" r="1.8"/><circle cx="493.6" cy="330.0" r="1.8"/><circle cx="494.9" cy="331.1" r="1.8"/><circle cx="494.9" cy="331.1" r="1.8"/><circle cx="496.5" cy="332.5" r="1.8"/><circle cx="497.0" cy="332.9" r="1.8"/><circle cx="496.9" cy="332.8" r="1.8"/><circle cx="497.6" cy="333.4" r="1.8"/><circle cx="499.2" cy="334.8" r="1.8"/><circle cx="500.1" cy="335.6" r="1.8"/><circle cx="500.0" cy="335.5" r="1.8"/><circle cx="501.0" cy="336.4" r="1.8"/><circle cx="502.3" cy="337.5" r="1.8"/><circle cx="502.4" cy="337.5" r="1.8"/><circle cx="504.0" cy="339.0" r="1.8"/><circle cx="504.3" cy="339.2" r="1.8"/><circle cx="504.5" cy="339.4" r="1.8"/><circle cx="505.6" cy="340.4" r="1.8"/><circle cx="506.6" cy="341.3" r="1.8"/><circle cx="507.2" cy="341.8" r="1.8"/><circle cx="508.2" cy="342.8" r="1.8"/><circle cx="508.4" cy="342.9" r="1.8"/><circle cx="509.9" cy="344.2" r="1.8"/><circle cx="510.1" cy="344.5" r="1.8"/><circle cx="511.2" cy="345.4" r="1.8"/><circle cx="511.9" cy="346.1" r="1.8"/><circle cx="512.4" cy="346.5" r="1.8"/><circle cx="513.1" cy="347.2" r="1.8"/><circle cx="514.3" cy="348.3" r="1.8"/><circle cx="515.2" cy="349.2" r="1.8"/><circle cx="515.8" cy="349.7" r="1.8"/><circle cx="516.3" cy="350.1" r="1.8"/><circle cx="516.7" cy="350.5" r="1.8"/><circle cx="517.1" cy="350.9" r="1.8"/><circle cx="518.9" cy="352.6" r="1.8"/><circle cx="519.4" cy="353.0" r="1.8"/><circle cx="520.2" cy="353.8" r="1.8"/><circle cx="520.4" cy="354.0" r="1.8"/><circle cx="521.4" cy="355.0" r="1.8"/><circle cx="522.6" cy="356.1" r="1.8"/><circle cx="523.2" cy="356.6" r="1.8"/><circle cx="523.6" cy="357.1" r="1.8"/><circle cx="524.0" cy="357.4" r="1.8"/><circle cx="524.9" cy="358.3" r="1.8"/><circle cx="526.1" cy="359.5" r="1.8"/><circle cx="526.2" cy="359.6" r="1.8"/><circle cx="527.3" cy="360.7" r="1.8"/><circle cx="527.9" cy="361.3" r="1.8"/><circle cx="529.0" cy="362.3" r="1.8"/><circle cx="529.6" cy="362.9" r="1.8"/><circle cx="529.7" cy="363.0" r="1.8"/><circle cx="530.1" cy="363.4" r="1.8"/><circle cx="531.1" cy="364.4" r="1.8"/><circle cx="532.0" cy="365.3" r="1.8"/><circle cx="532.9" cy="366.2" r="1.8"/><circle cx="533.9" cy="367.2" r="1.8"/><circle cx="534.7" cy="368.0" r="1.8"/><circle cx="534.5" cy="367.7" r="1.8"/><circle cx="536.1" cy="369.3" r="1.8"/><circle cx="536.7" cy="370.0" r="1.8"/><circle cx="537.5" cy="370.8" r="1.8"/><circle cx="537.9" cy="371.2" r="1.8"/><circle cx="538.2" cy="371.5" r="1.8"/><circle cx="539.6" cy="372.9" r="1.8"/><circle cx="540.3" cy="373.6" r="1.8"/><circle cx="540.8" cy="374.2" r="1.8"/><circle cx="541.8" cy="375.2" r="1.8"/><circle cx="541.8" cy="375.2" r="1.8"/><circle cx="542.2" cy="375.6" r="1.8"/><circle cx="543.5" cy="376.9" r="1.8"/><circle cx="544.4" cy="377.9" r="1.8"/><circle cx="544.8" cy="378.3" r="1.8"/></g>
<g class="m"><circle cx="357.7" cy="252.2" r="1.75"/><circle cx="358.9" cy="252.7" r="1.75"/><circle cx="358.1" cy="252.6" r="1.75"/><circle cx="365.3" cy="254.6" r="1.75"/><circle cx="367.9" cy="255.5" r="1.75"/><circle cx="368.6" cy="256.0" r="1.75"/><circle cx="370.5" cy="256.6" r="1.75"/><circle cx="370.3" cy="256.4" r="1.75"/><circle cx="376.7" cy="258.8" r="1.75"/><circle cx="376.9" cy="258.8" r="1.75"/><circle cx="376.7" cy="258.7" r="1.75"/><circle cx="379.4" cy="259.9" r="1.75"/><circle cx="382.2" cy="260.9" r="1.75"/><circle cx="387.2" cy="262.9" r="1.75"/><circle cx="393.4" cy="265.6" r="1.75"/><circle cx="392.4" cy="265.3" r="1.75"/><circle cx="393.9" cy="265.9" r="1.75"/><circle cx="399.2" cy="268.2" r="1.75"/><circle cx="395.5" cy="266.5" r="1.75"/><circle cx="398.1" cy="267.9" r="1.75"/><circle cx="406.5" cy="271.9" r="1.75"/><circle cx="409.0" cy="273.1" r="1.75"/><circle cx="407.5" cy="272.5" r="1.75"/><circle cx="408.9" cy="273.0" r="1.75"/><circle cx="416.4" cy="276.8" r="1.75"/><circle cx="414.8" cy="276.2" r="1.75"/><circle cx="421.0" cy="279.3" r="1.75"/><circle cx="418.0" cy="277.9" r="1.75"/><circle cx="425.1" cy="281.5" r="1.75"/><circle cx="426.5" cy="282.5" r="1.75"/><circle cx="429.9" cy="284.5" r="1.75"/><circle cx="430.8" cy="285.0" r="1.75"/><circle cx="429.6" cy="284.4" r="1.75"/><circle cx="430.4" cy="284.8" r="1.75"/><circle cx="432.8" cy="286.1" r="1.75"/><circle cx="435.7" cy="288.1" r="1.75"/><circle cx="436.5" cy="288.3" r="1.75"/><circle cx="438.9" cy="289.8" r="1.75"/><circle cx="447.4" cy="295.4" r="1.75"/><circle cx="443.9" cy="293.0" r="1.75"/><circle cx="451.6" cy="298.2" r="1.75"/><circle cx="450.4" cy="297.5" r="1.75"/><circle cx="452.8" cy="298.8" r="1.75"/><circle cx="453.0" cy="299.3" r="1.75"/><circle cx="457.4" cy="302.4" r="1.75"/><circle cx="457.6" cy="302.3" r="1.75"/><circle cx="459.9" cy="303.8" r="1.75"/><circle cx="461.2" cy="304.8" r="1.75"/><circle cx="468.1" cy="310.1" r="1.75"/><circle cx="464.8" cy="307.4" r="1.75"/><circle cx="467.8" cy="309.6" r="1.75"/><circle cx="470.1" cy="311.4" r="1.75"/><circle cx="477.2" cy="316.8" r="1.75"/><circle cx="473.2" cy="313.9" r="1.75"/><circle cx="475.1" cy="315.0" r="1.75"/><circle cx="482.9" cy="321.5" r="1.75"/><circle cx="480.9" cy="319.6" r="1.75"/><circle cx="486.2" cy="323.8" r="1.75"/><circle cx="485.8" cy="323.4" r="1.75"/><circle cx="488.4" cy="325.7" r="1.75"/><circle cx="491.8" cy="328.4" r="1.75"/><circle cx="489.2" cy="326.5" r="1.75"/><circle cx="493.9" cy="330.3" r="1.75"/><circle cx="496.8" cy="332.8" r="1.75"/><circle cx="498.4" cy="334.1" r="1.75"/><circle cx="501.4" cy="336.8" r="1.75"/><circle cx="499.2" cy="334.7" r="1.75"/><circle cx="506.0" cy="340.7" r="1.75"/><circle cx="502.9" cy="337.9" r="1.75"/><circle cx="509.9" cy="344.2" r="1.75"/><circle cx="511.6" cy="345.7" r="1.75"/><circle cx="510.8" cy="344.9" r="1.75"/><circle cx="513.5" cy="347.6" r="1.75"/><circle cx="513.1" cy="347.2" r="1.75"/><circle cx="519.4" cy="353.1" r="1.75"/><circle cx="518.5" cy="352.0" r="1.75"/><circle cx="523.4" cy="356.7" r="1.75"/><circle cx="522.9" cy="356.4" r="1.75"/><circle cx="522.0" cy="355.3" r="1.75"/><circle cx="524.6" cy="358.0" r="1.75"/><circle cx="530.2" cy="363.5" r="1.75"/><circle cx="531.4" cy="364.6" r="1.75"/><circle cx="532.7" cy="366.0" r="1.75"/><circle cx="535.0" cy="368.5" r="1.75"/><circle cx="536.9" cy="370.2" r="1.75"/><circle cx="537.6" cy="370.8" r="1.75"/><circle cx="537.2" cy="370.4" r="1.75"/><circle cx="541.8" cy="375.0" r="1.75"/><circle cx="543.5" cy="376.8" r="1.75"/><circle cx="544.9" cy="378.3" r="1.75"/><circle cx="355.5" cy="229.8" r="1.75"/><circle cx="355.5" cy="239.0" r="1.75"/><circle cx="355.5" cy="244.2" r="1.75"/></g>
<text class="t" x="334.3" y="387.7" text-anchor="middle">0.2</text>
<text class="t" x="360.6" y="387.7" text-anchor="middle">0.3</text>
<text class="t" x="386.9" y="387.7" text-anchor="middle">0.4</text>
<text class="t" x="413.2" y="387.7" text-anchor="middle">0.5</text>
<text class="t" x="439.6" y="387.7" text-anchor="middle">0.6</text>
<text class="t" x="465.9" y="387.7" text-anchor="middle">0.7</text>
<text class="t" x="492.2" y="387.7" text-anchor="middle">0.8</text>
<text class="t" x="518.5" y="387.7" text-anchor="middle">0.9</text>
<text class="t" x="544.8" y="387.7" text-anchor="middle">1</text>
<text class="t" x="331.7" y="380.6" text-anchor="end">0</text>
<text class="t" x="331.7" y="353.1" text-anchor="end">0.2</text>
<text class="t" x="331.7" y="325.6" text-anchor="end">0.4</text>
<text class="t" x="331.7" y="298.2" text-anchor="end">0.6</text>
<text class="t" x="331.7" y="270.7" text-anchor="end">0.8</text>
<text class="t" x="331.7" y="243.2" text-anchor="end">1</text>
<text class="t" x="331.7" y="215.7" text-anchor="end">1.2</text>
<text class="xl" x="439.3" y="396.3" text-anchor="middle">f1(x)</text>
<text class="xl" transform="translate(319.3 295.6) rotate(-90)" text-anchor="middle">f2(x)</text>
<rect x="484.2" y="218.0" width="55.5" height="25.4" fill="#fff" stroke="#777" stroke-width=".7"/>
<line x1="486.2" y1="222.6" x2="504.7" y2="222.6" stroke="#777" stroke-width="1.6"/>
<circle class="b" cx="495.5" cy="230.8" r="2"/>
<circle class="m" cx="495.5" cy="239.0" r="1.85"/>
<text class="l" x="507.2" y="224.7">Pareto front</text>
<text class="l" x="507.2" y="232.9">M-MOPSO</text>
<text class="l" x="507.2" y="241.1">NSGA-II</text>
<text class="c" x="406.3" y="413.0">(<tspan font-weight="bold">d</tspan>) ZDT6</text>
</g>
</svg>
</body></html>
